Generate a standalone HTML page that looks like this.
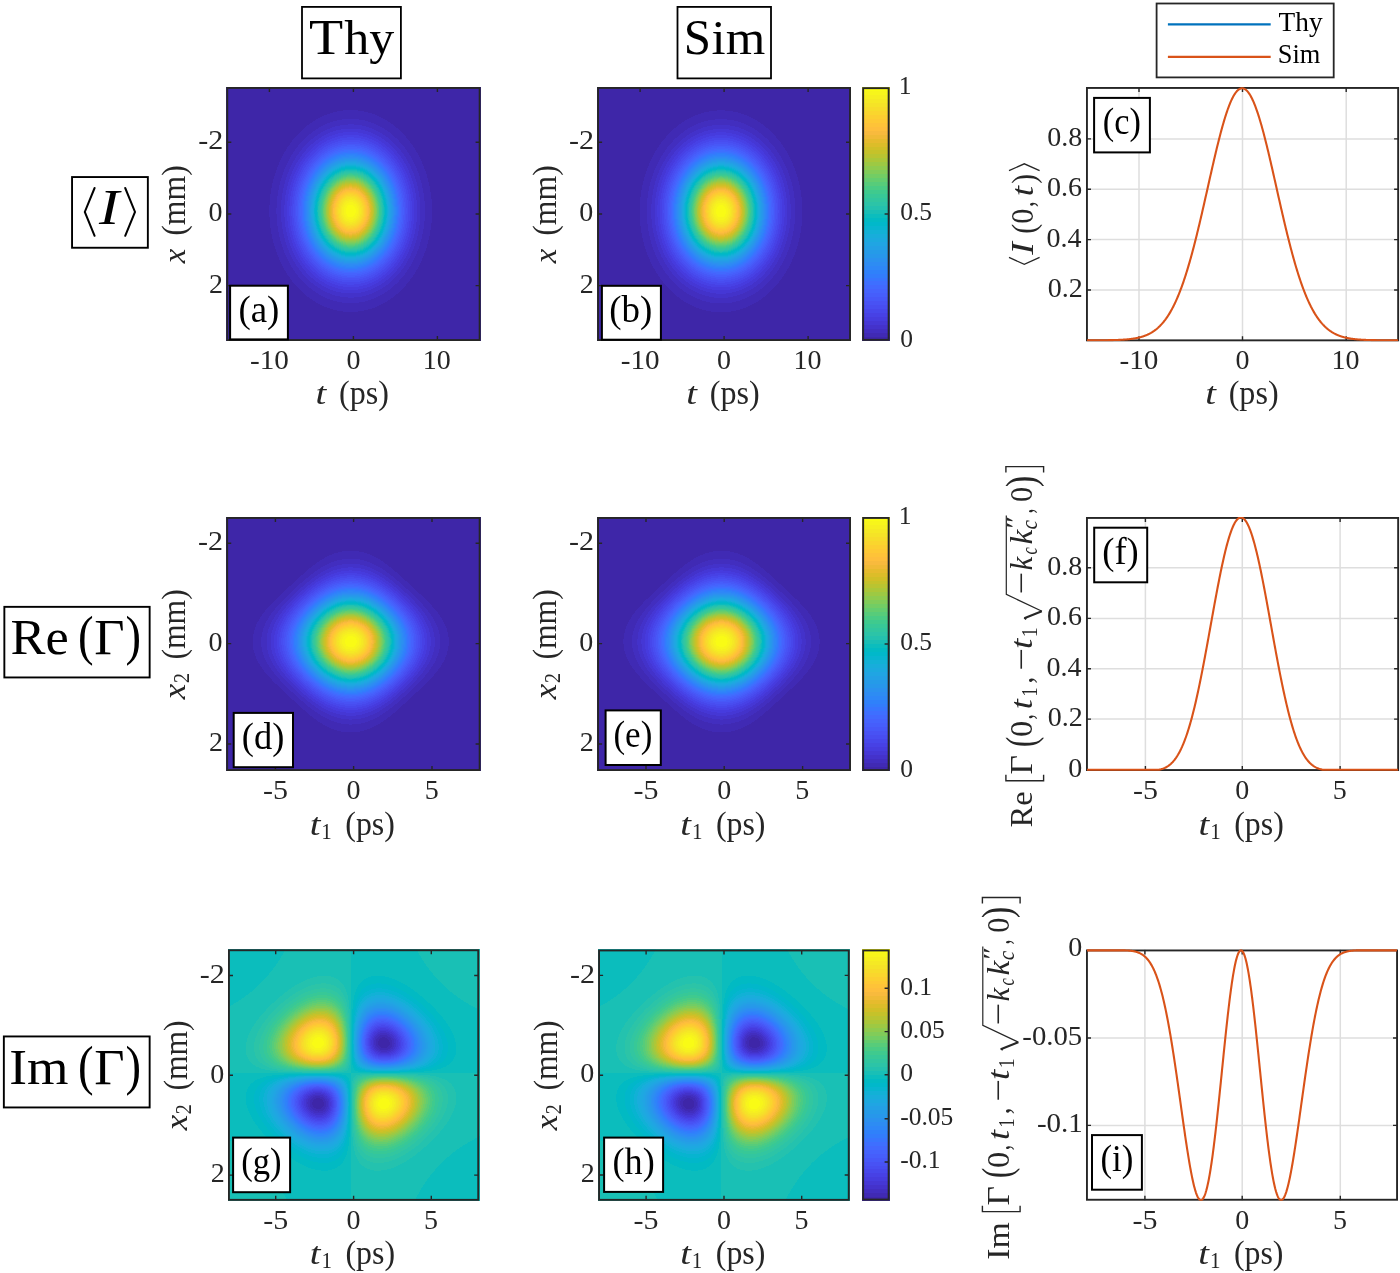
<!DOCTYPE html>
<html><head><meta charset="utf-8"><title>figure</title><style>
html,body{margin:0;padding:0;background:#fff}
body{width:1400px;height:1273px;position:relative;overflow:hidden}
canvas,.fb{position:absolute;display:block}
svg{position:absolute;left:0;top:0}
text{font-family:"Liberation Serif",serif;font-kerning:none}
</style></head><body>
<div class="fb" style="left:226px;top:87px;width:255px;height:254px;background:radial-gradient(101.5px 126.0px at 124.7px 124.0px,rgb(249,251,21) 0%,rgb(249,251,21) 4.93%,rgb(247,245,27) 4.93%,rgb(247,245,27) 7.00%,rgb(246,239,32) 7.00%,rgb(246,239,32) 8.61%,rgb(245,233,36) 8.61%,rgb(245,233,36) 9.98%,rgb(245,227,39) 9.98%,rgb(245,227,39) 11.20%,rgb(247,220,42) 11.20%,rgb(247,220,42) 12.33%,rgb(250,214,45) 12.33%,rgb(250,214,45) 13.37%,rgb(252,207,48) 13.37%,rgb(252,207,48) 14.36%,rgb(254,201,52) 14.36%,rgb(254,201,52) 15.29%,rgb(254,195,56) 15.29%,rgb(254,195,56) 16.19%,rgb(254,190,60) 16.19%,rgb(254,190,60) 17.06%,rgb(248,186,61) 17.06%,rgb(248,186,61) 17.90%,rgb(240,186,54) 17.90%,rgb(240,186,54) 18.72%,rgb(230,187,45) 18.72%,rgb(230,187,45) 19.52%,rgb(220,189,41) 19.52%,rgb(220,189,41) 20.30%,rgb(209,191,39) 20.30%,rgb(209,191,39) 21.07%,rgb(197,194,42) 21.07%,rgb(197,194,42) 21.83%,rgb(185,196,49) 21.83%,rgb(185,196,49) 22.58%,rgb(171,199,57) 22.58%,rgb(171,199,57) 23.31%,rgb(157,201,67) 23.31%,rgb(157,201,67) 24.05%,rgb(143,203,78) 24.05%,rgb(143,203,78) 24.77%,rgb(129,204,89) 24.77%,rgb(129,204,89) 25.50%,rgb(114,205,100) 25.50%,rgb(114,205,100) 26.21%,rgb(100,205,111) 26.21%,rgb(100,205,111) 26.93%,rgb(87,204,122) 26.93%,rgb(87,204,122) 27.65%,rgb(74,203,132) 27.65%,rgb(74,203,132) 28.36%,rgb(63,202,142) 28.36%,rgb(63,202,142) 29.08%,rgb(55,200,151) 29.08%,rgb(55,200,151) 29.80%,rgb(49,198,159) 29.80%,rgb(49,198,159) 30.52%,rgb(44,196,167) 30.52%,rgb(44,196,167) 31.24%,rgb(36,193,174) 31.24%,rgb(36,193,174) 31.97%,rgb(25,191,182) 31.97%,rgb(25,191,182) 32.71%,rgb(11,189,189) 32.71%,rgb(11,189,189) 33.45%,rgb(2,186,195) 33.45%,rgb(2,186,195) 34.19%,rgb(1,184,202) 34.19%,rgb(1,184,202) 34.95%,rgb(8,181,208) 34.95%,rgb(8,181,208) 35.72%,rgb(18,177,214) 35.72%,rgb(18,177,214) 36.49%,rgb(24,173,219) 36.49%,rgb(24,173,219) 37.28%,rgb(28,169,223) 37.28%,rgb(28,169,223) 38.09%,rgb(32,165,227) 38.09%,rgb(32,165,227) 38.91%,rgb(35,160,229) 38.91%,rgb(35,160,229) 39.74%,rgb(37,155,232) 39.74%,rgb(37,155,232) 40.59%,rgb(39,151,235) 40.59%,rgb(39,151,235) 41.47%,rgb(43,145,239) 41.47%,rgb(43,145,239) 42.37%,rgb(45,140,243) 42.37%,rgb(45,140,243) 43.29%,rgb(46,135,247) 43.29%,rgb(46,135,247) 44.24%,rgb(47,129,250) 44.24%,rgb(47,129,250) 45.23%,rgb(50,124,252) 45.23%,rgb(50,124,252) 46.25%,rgb(56,117,254) 46.25%,rgb(56,117,254) 47.32%,rgb(62,111,255) 47.32%,rgb(62,111,255) 48.43%,rgb(66,105,254) 48.43%,rgb(66,105,254) 49.60%,rgb(69,99,253) 49.60%,rgb(69,99,253) 50.83%,rgb(70,94,251) 50.83%,rgb(70,94,251) 52.13%,rgb(71,88,248) 52.13%,rgb(71,88,248) 53.52%,rgb(72,82,244) 53.52%,rgb(72,82,244) 55.02%,rgb(72,77,240) 55.02%,rgb(72,77,240) 56.65%,rgb(71,71,235) 56.65%,rgb(71,71,235) 58.44%,rgb(71,65,229) 58.44%,rgb(71,65,229) 60.44%,rgb(70,60,222) 60.44%,rgb(70,60,222) 62.72%,rgb(69,55,213) 62.72%,rgb(69,55,213) 65.41%,rgb(68,50,203) 65.41%,rgb(68,50,203) 68.72%,rgb(66,46,192) 68.72%,rgb(66,46,192) 73.13%,rgb(64,42,180) 73.13%,rgb(64,42,180) 80.11%,rgb(62,38,168) 80.11%)"></div>
<div class="fb" style="left:597px;top:87px;width:254px;height:254px;background:radial-gradient(101.5px 126.0px at 124.0px 124.3px,rgb(249,251,21) 0%,rgb(249,251,21) 4.93%,rgb(247,245,27) 4.93%,rgb(247,245,27) 7.00%,rgb(246,239,32) 7.00%,rgb(246,239,32) 8.61%,rgb(245,233,36) 8.61%,rgb(245,233,36) 9.98%,rgb(245,227,39) 9.98%,rgb(245,227,39) 11.20%,rgb(247,220,42) 11.20%,rgb(247,220,42) 12.33%,rgb(250,214,45) 12.33%,rgb(250,214,45) 13.37%,rgb(252,207,48) 13.37%,rgb(252,207,48) 14.36%,rgb(254,201,52) 14.36%,rgb(254,201,52) 15.29%,rgb(254,195,56) 15.29%,rgb(254,195,56) 16.19%,rgb(254,190,60) 16.19%,rgb(254,190,60) 17.06%,rgb(248,186,61) 17.06%,rgb(248,186,61) 17.90%,rgb(240,186,54) 17.90%,rgb(240,186,54) 18.72%,rgb(230,187,45) 18.72%,rgb(230,187,45) 19.52%,rgb(220,189,41) 19.52%,rgb(220,189,41) 20.30%,rgb(209,191,39) 20.30%,rgb(209,191,39) 21.07%,rgb(197,194,42) 21.07%,rgb(197,194,42) 21.83%,rgb(185,196,49) 21.83%,rgb(185,196,49) 22.58%,rgb(171,199,57) 22.58%,rgb(171,199,57) 23.31%,rgb(157,201,67) 23.31%,rgb(157,201,67) 24.05%,rgb(143,203,78) 24.05%,rgb(143,203,78) 24.77%,rgb(129,204,89) 24.77%,rgb(129,204,89) 25.50%,rgb(114,205,100) 25.50%,rgb(114,205,100) 26.21%,rgb(100,205,111) 26.21%,rgb(100,205,111) 26.93%,rgb(87,204,122) 26.93%,rgb(87,204,122) 27.65%,rgb(74,203,132) 27.65%,rgb(74,203,132) 28.36%,rgb(63,202,142) 28.36%,rgb(63,202,142) 29.08%,rgb(55,200,151) 29.08%,rgb(55,200,151) 29.80%,rgb(49,198,159) 29.80%,rgb(49,198,159) 30.52%,rgb(44,196,167) 30.52%,rgb(44,196,167) 31.24%,rgb(36,193,174) 31.24%,rgb(36,193,174) 31.97%,rgb(25,191,182) 31.97%,rgb(25,191,182) 32.71%,rgb(11,189,189) 32.71%,rgb(11,189,189) 33.45%,rgb(2,186,195) 33.45%,rgb(2,186,195) 34.19%,rgb(1,184,202) 34.19%,rgb(1,184,202) 34.95%,rgb(8,181,208) 34.95%,rgb(8,181,208) 35.72%,rgb(18,177,214) 35.72%,rgb(18,177,214) 36.49%,rgb(24,173,219) 36.49%,rgb(24,173,219) 37.28%,rgb(28,169,223) 37.28%,rgb(28,169,223) 38.09%,rgb(32,165,227) 38.09%,rgb(32,165,227) 38.91%,rgb(35,160,229) 38.91%,rgb(35,160,229) 39.74%,rgb(37,155,232) 39.74%,rgb(37,155,232) 40.59%,rgb(39,151,235) 40.59%,rgb(39,151,235) 41.47%,rgb(43,145,239) 41.47%,rgb(43,145,239) 42.37%,rgb(45,140,243) 42.37%,rgb(45,140,243) 43.29%,rgb(46,135,247) 43.29%,rgb(46,135,247) 44.24%,rgb(47,129,250) 44.24%,rgb(47,129,250) 45.23%,rgb(50,124,252) 45.23%,rgb(50,124,252) 46.25%,rgb(56,117,254) 46.25%,rgb(56,117,254) 47.32%,rgb(62,111,255) 47.32%,rgb(62,111,255) 48.43%,rgb(66,105,254) 48.43%,rgb(66,105,254) 49.60%,rgb(69,99,253) 49.60%,rgb(69,99,253) 50.83%,rgb(70,94,251) 50.83%,rgb(70,94,251) 52.13%,rgb(71,88,248) 52.13%,rgb(71,88,248) 53.52%,rgb(72,82,244) 53.52%,rgb(72,82,244) 55.02%,rgb(72,77,240) 55.02%,rgb(72,77,240) 56.65%,rgb(71,71,235) 56.65%,rgb(71,71,235) 58.44%,rgb(71,65,229) 58.44%,rgb(71,65,229) 60.44%,rgb(70,60,222) 60.44%,rgb(70,60,222) 62.72%,rgb(69,55,213) 62.72%,rgb(69,55,213) 65.41%,rgb(68,50,203) 65.41%,rgb(68,50,203) 68.72%,rgb(66,46,192) 68.72%,rgb(66,46,192) 73.13%,rgb(64,42,180) 73.13%,rgb(64,42,180) 80.11%,rgb(62,38,168) 80.11%)"></div>
<div class="fb" style="left:226px;top:517px;width:255px;height:254px;background:radial-gradient(122.4px 113.4px at 124.7px 124.6px,rgb(249,251,21) 0%,rgb(249,251,21) 4.93%,rgb(247,245,27) 4.93%,rgb(247,245,27) 7.00%,rgb(246,239,32) 7.00%,rgb(246,239,32) 8.61%,rgb(245,233,36) 8.61%,rgb(245,233,36) 9.98%,rgb(245,227,39) 9.98%,rgb(245,227,39) 11.20%,rgb(247,220,42) 11.20%,rgb(247,220,42) 12.33%,rgb(250,214,45) 12.33%,rgb(250,214,45) 13.37%,rgb(252,207,48) 13.37%,rgb(252,207,48) 14.36%,rgb(254,201,52) 14.36%,rgb(254,201,52) 15.29%,rgb(254,195,56) 15.29%,rgb(254,195,56) 16.19%,rgb(254,190,60) 16.19%,rgb(254,190,60) 17.06%,rgb(248,186,61) 17.06%,rgb(248,186,61) 17.90%,rgb(240,186,54) 17.90%,rgb(240,186,54) 18.72%,rgb(230,187,45) 18.72%,rgb(230,187,45) 19.52%,rgb(220,189,41) 19.52%,rgb(220,189,41) 20.30%,rgb(209,191,39) 20.30%,rgb(209,191,39) 21.07%,rgb(197,194,42) 21.07%,rgb(197,194,42) 21.83%,rgb(185,196,49) 21.83%,rgb(185,196,49) 22.58%,rgb(171,199,57) 22.58%,rgb(171,199,57) 23.31%,rgb(157,201,67) 23.31%,rgb(157,201,67) 24.05%,rgb(143,203,78) 24.05%,rgb(143,203,78) 24.77%,rgb(129,204,89) 24.77%,rgb(129,204,89) 25.50%,rgb(114,205,100) 25.50%,rgb(114,205,100) 26.21%,rgb(100,205,111) 26.21%,rgb(100,205,111) 26.93%,rgb(87,204,122) 26.93%,rgb(87,204,122) 27.65%,rgb(74,203,132) 27.65%,rgb(74,203,132) 28.36%,rgb(63,202,142) 28.36%,rgb(63,202,142) 29.08%,rgb(55,200,151) 29.08%,rgb(55,200,151) 29.80%,rgb(49,198,159) 29.80%,rgb(49,198,159) 30.52%,rgb(44,196,167) 30.52%,rgb(44,196,167) 31.24%,rgb(36,193,174) 31.24%,rgb(36,193,174) 31.97%,rgb(25,191,182) 31.97%,rgb(25,191,182) 32.71%,rgb(11,189,189) 32.71%,rgb(11,189,189) 33.45%,rgb(2,186,195) 33.45%,rgb(2,186,195) 34.19%,rgb(1,184,202) 34.19%,rgb(1,184,202) 34.95%,rgb(8,181,208) 34.95%,rgb(8,181,208) 35.72%,rgb(18,177,214) 35.72%,rgb(18,177,214) 36.49%,rgb(24,173,219) 36.49%,rgb(24,173,219) 37.28%,rgb(28,169,223) 37.28%,rgb(28,169,223) 38.09%,rgb(32,165,227) 38.09%,rgb(32,165,227) 38.91%,rgb(35,160,229) 38.91%,rgb(35,160,229) 39.74%,rgb(37,155,232) 39.74%,rgb(37,155,232) 40.59%,rgb(39,151,235) 40.59%,rgb(39,151,235) 41.47%,rgb(43,145,239) 41.47%,rgb(43,145,239) 42.37%,rgb(45,140,243) 42.37%,rgb(45,140,243) 43.29%,rgb(46,135,247) 43.29%,rgb(46,135,247) 44.24%,rgb(47,129,250) 44.24%,rgb(47,129,250) 45.23%,rgb(50,124,252) 45.23%,rgb(50,124,252) 46.25%,rgb(56,117,254) 46.25%,rgb(56,117,254) 47.32%,rgb(62,111,255) 47.32%,rgb(62,111,255) 48.43%,rgb(66,105,254) 48.43%,rgb(66,105,254) 49.60%,rgb(69,99,253) 49.60%,rgb(69,99,253) 50.83%,rgb(70,94,251) 50.83%,rgb(70,94,251) 52.13%,rgb(71,88,248) 52.13%,rgb(71,88,248) 53.52%,rgb(72,82,244) 53.52%,rgb(72,82,244) 55.02%,rgb(72,77,240) 55.02%,rgb(72,77,240) 56.65%,rgb(71,71,235) 56.65%,rgb(71,71,235) 58.44%,rgb(71,65,229) 58.44%,rgb(71,65,229) 60.44%,rgb(70,60,222) 60.44%,rgb(70,60,222) 62.72%,rgb(69,55,213) 62.72%,rgb(69,55,213) 65.41%,rgb(68,50,203) 65.41%,rgb(68,50,203) 68.72%,rgb(66,46,192) 68.72%,rgb(66,46,192) 73.13%,rgb(64,42,180) 73.13%,rgb(64,42,180) 80.11%,rgb(62,38,168) 80.11%)"></div>
<div class="fb" style="left:597px;top:517px;width:254px;height:254px;background:radial-gradient(122.4px 113.4px at 124.5px 124.6px,rgb(249,251,21) 0%,rgb(249,251,21) 4.93%,rgb(247,245,27) 4.93%,rgb(247,245,27) 7.00%,rgb(246,239,32) 7.00%,rgb(246,239,32) 8.61%,rgb(245,233,36) 8.61%,rgb(245,233,36) 9.98%,rgb(245,227,39) 9.98%,rgb(245,227,39) 11.20%,rgb(247,220,42) 11.20%,rgb(247,220,42) 12.33%,rgb(250,214,45) 12.33%,rgb(250,214,45) 13.37%,rgb(252,207,48) 13.37%,rgb(252,207,48) 14.36%,rgb(254,201,52) 14.36%,rgb(254,201,52) 15.29%,rgb(254,195,56) 15.29%,rgb(254,195,56) 16.19%,rgb(254,190,60) 16.19%,rgb(254,190,60) 17.06%,rgb(248,186,61) 17.06%,rgb(248,186,61) 17.90%,rgb(240,186,54) 17.90%,rgb(240,186,54) 18.72%,rgb(230,187,45) 18.72%,rgb(230,187,45) 19.52%,rgb(220,189,41) 19.52%,rgb(220,189,41) 20.30%,rgb(209,191,39) 20.30%,rgb(209,191,39) 21.07%,rgb(197,194,42) 21.07%,rgb(197,194,42) 21.83%,rgb(185,196,49) 21.83%,rgb(185,196,49) 22.58%,rgb(171,199,57) 22.58%,rgb(171,199,57) 23.31%,rgb(157,201,67) 23.31%,rgb(157,201,67) 24.05%,rgb(143,203,78) 24.05%,rgb(143,203,78) 24.77%,rgb(129,204,89) 24.77%,rgb(129,204,89) 25.50%,rgb(114,205,100) 25.50%,rgb(114,205,100) 26.21%,rgb(100,205,111) 26.21%,rgb(100,205,111) 26.93%,rgb(87,204,122) 26.93%,rgb(87,204,122) 27.65%,rgb(74,203,132) 27.65%,rgb(74,203,132) 28.36%,rgb(63,202,142) 28.36%,rgb(63,202,142) 29.08%,rgb(55,200,151) 29.08%,rgb(55,200,151) 29.80%,rgb(49,198,159) 29.80%,rgb(49,198,159) 30.52%,rgb(44,196,167) 30.52%,rgb(44,196,167) 31.24%,rgb(36,193,174) 31.24%,rgb(36,193,174) 31.97%,rgb(25,191,182) 31.97%,rgb(25,191,182) 32.71%,rgb(11,189,189) 32.71%,rgb(11,189,189) 33.45%,rgb(2,186,195) 33.45%,rgb(2,186,195) 34.19%,rgb(1,184,202) 34.19%,rgb(1,184,202) 34.95%,rgb(8,181,208) 34.95%,rgb(8,181,208) 35.72%,rgb(18,177,214) 35.72%,rgb(18,177,214) 36.49%,rgb(24,173,219) 36.49%,rgb(24,173,219) 37.28%,rgb(28,169,223) 37.28%,rgb(28,169,223) 38.09%,rgb(32,165,227) 38.09%,rgb(32,165,227) 38.91%,rgb(35,160,229) 38.91%,rgb(35,160,229) 39.74%,rgb(37,155,232) 39.74%,rgb(37,155,232) 40.59%,rgb(39,151,235) 40.59%,rgb(39,151,235) 41.47%,rgb(43,145,239) 41.47%,rgb(43,145,239) 42.37%,rgb(45,140,243) 42.37%,rgb(45,140,243) 43.29%,rgb(46,135,247) 43.29%,rgb(46,135,247) 44.24%,rgb(47,129,250) 44.24%,rgb(47,129,250) 45.23%,rgb(50,124,252) 45.23%,rgb(50,124,252) 46.25%,rgb(56,117,254) 46.25%,rgb(56,117,254) 47.32%,rgb(62,111,255) 47.32%,rgb(62,111,255) 48.43%,rgb(66,105,254) 48.43%,rgb(66,105,254) 49.60%,rgb(69,99,253) 49.60%,rgb(69,99,253) 50.83%,rgb(70,94,251) 50.83%,rgb(70,94,251) 52.13%,rgb(71,88,248) 52.13%,rgb(71,88,248) 53.52%,rgb(72,82,244) 53.52%,rgb(72,82,244) 55.02%,rgb(72,77,240) 55.02%,rgb(72,77,240) 56.65%,rgb(71,71,235) 56.65%,rgb(71,71,235) 58.44%,rgb(71,65,229) 58.44%,rgb(71,65,229) 60.44%,rgb(70,60,222) 60.44%,rgb(70,60,222) 62.72%,rgb(69,55,213) 62.72%,rgb(69,55,213) 65.41%,rgb(68,50,203) 65.41%,rgb(68,50,203) 68.72%,rgb(66,46,192) 68.72%,rgb(66,46,192) 73.13%,rgb(64,42,180) 73.13%,rgb(64,42,180) 80.11%,rgb(62,38,168) 80.11%)"></div>
<div class="fb" style="left:228px;top:949px;width:252px;height:252px;background:radial-gradient(44.4px 41.1px at 91.1px 94.7px,rgb(249,251,21) 0.0%,rgb(249,251,21) 4.5%,rgb(249,251,21) 9.1%,rgb(247,245,27) 13.6%,rgb(246,239,32) 18.2%,rgb(245,233,36) 22.7%,rgb(247,220,42) 27.3%,rgb(250,214,45) 31.8%,rgb(254,201,52) 36.4%,rgb(254,190,60) 40.9%,rgb(240,186,54) 45.5%,rgb(220,189,41) 50.0%,rgb(197,194,42) 54.5%,rgb(171,199,57) 59.1%,rgb(157,201,67) 63.6%,rgb(129,204,89) 68.2%,rgb(100,205,111) 72.7%,rgb(87,204,122) 77.3%,rgb(74,203,132) 81.8%,rgb(63,202,142) 86.4%,rgb(55,200,151) 90.9%,transparent 95.5%,transparent 100.0%,transparent 100%),radial-gradient(44.4px 41.1px at 154.9px 153.7px,rgb(249,251,21) 0.0%,rgb(249,251,21) 4.5%,rgb(249,251,21) 9.1%,rgb(247,245,27) 13.6%,rgb(246,239,32) 18.2%,rgb(245,233,36) 22.7%,rgb(247,220,42) 27.3%,rgb(250,214,45) 31.8%,rgb(254,201,52) 36.4%,rgb(254,190,60) 40.9%,rgb(240,186,54) 45.5%,rgb(220,189,41) 50.0%,rgb(197,194,42) 54.5%,rgb(171,199,57) 59.1%,rgb(157,201,67) 63.6%,rgb(129,204,89) 68.2%,rgb(100,205,111) 72.7%,rgb(87,204,122) 77.3%,rgb(74,203,132) 81.8%,rgb(63,202,142) 86.4%,rgb(55,200,151) 90.9%,transparent 95.5%,transparent 100.0%,transparent 100%),radial-gradient(44.4px 41.1px at 154.9px 94.7px,rgb(62,38,168) 0.0%,rgb(62,38,168) 4.5%,rgb(62,38,168) 9.1%,rgb(64,42,180) 13.6%,rgb(66,46,192) 18.2%,rgb(68,50,203) 22.7%,rgb(70,60,222) 27.3%,rgb(71,65,229) 31.8%,rgb(72,77,240) 36.4%,rgb(71,88,248) 40.9%,rgb(69,99,253) 45.5%,rgb(62,111,255) 50.0%,rgb(50,124,252) 54.5%,rgb(46,135,247) 59.1%,rgb(45,140,243) 63.6%,rgb(39,151,235) 68.2%,rgb(35,160,229) 72.7%,rgb(32,165,227) 77.3%,rgb(28,169,223) 81.8%,rgb(24,173,219) 86.4%,rgb(18,177,214) 90.9%,rgb(8,181,208) 95.5%,transparent 100.0%,transparent 100%),radial-gradient(44.4px 41.1px at 91.1px 153.7px,rgb(62,38,168) 0.0%,rgb(62,38,168) 4.5%,rgb(62,38,168) 9.1%,rgb(64,42,180) 13.6%,rgb(66,46,192) 18.2%,rgb(68,50,203) 22.7%,rgb(70,60,222) 27.3%,rgb(71,65,229) 31.8%,rgb(72,77,240) 36.4%,rgb(71,88,248) 40.9%,rgb(69,99,253) 45.5%,rgb(62,111,255) 50.0%,rgb(50,124,252) 54.5%,rgb(46,135,247) 59.1%,rgb(45,140,243) 63.6%,rgb(39,151,235) 68.2%,rgb(35,160,229) 72.7%,rgb(32,165,227) 77.3%,rgb(28,169,223) 81.8%,rgb(24,173,219) 86.4%,rgb(18,177,214) 90.9%,rgb(8,181,208) 95.5%,transparent 100.0%,transparent 100%),rgb(25,191,182)"></div>
<div class="fb" style="left:598px;top:949px;width:252px;height:252px;background:radial-gradient(44.4px 41.1px at 91.6px 94.7px,rgb(249,251,21) 0.0%,rgb(249,251,21) 4.5%,rgb(249,251,21) 9.1%,rgb(247,245,27) 13.6%,rgb(246,239,32) 18.2%,rgb(245,233,36) 22.7%,rgb(247,220,42) 27.3%,rgb(250,214,45) 31.8%,rgb(254,201,52) 36.4%,rgb(254,190,60) 40.9%,rgb(240,186,54) 45.5%,rgb(220,189,41) 50.0%,rgb(197,194,42) 54.5%,rgb(171,199,57) 59.1%,rgb(157,201,67) 63.6%,rgb(129,204,89) 68.2%,rgb(100,205,111) 72.7%,rgb(87,204,122) 77.3%,rgb(74,203,132) 81.8%,rgb(63,202,142) 86.4%,rgb(55,200,151) 90.9%,transparent 95.5%,transparent 100.0%,transparent 100%),radial-gradient(44.4px 41.1px at 155.4px 153.7px,rgb(249,251,21) 0.0%,rgb(249,251,21) 4.5%,rgb(249,251,21) 9.1%,rgb(247,245,27) 13.6%,rgb(246,239,32) 18.2%,rgb(245,233,36) 22.7%,rgb(247,220,42) 27.3%,rgb(250,214,45) 31.8%,rgb(254,201,52) 36.4%,rgb(254,190,60) 40.9%,rgb(240,186,54) 45.5%,rgb(220,189,41) 50.0%,rgb(197,194,42) 54.5%,rgb(171,199,57) 59.1%,rgb(157,201,67) 63.6%,rgb(129,204,89) 68.2%,rgb(100,205,111) 72.7%,rgb(87,204,122) 77.3%,rgb(74,203,132) 81.8%,rgb(63,202,142) 86.4%,rgb(55,200,151) 90.9%,transparent 95.5%,transparent 100.0%,transparent 100%),radial-gradient(44.4px 41.1px at 155.4px 94.7px,rgb(62,38,168) 0.0%,rgb(62,38,168) 4.5%,rgb(62,38,168) 9.1%,rgb(64,42,180) 13.6%,rgb(66,46,192) 18.2%,rgb(68,50,203) 22.7%,rgb(70,60,222) 27.3%,rgb(71,65,229) 31.8%,rgb(72,77,240) 36.4%,rgb(71,88,248) 40.9%,rgb(69,99,253) 45.5%,rgb(62,111,255) 50.0%,rgb(50,124,252) 54.5%,rgb(46,135,247) 59.1%,rgb(45,140,243) 63.6%,rgb(39,151,235) 68.2%,rgb(35,160,229) 72.7%,rgb(32,165,227) 77.3%,rgb(28,169,223) 81.8%,rgb(24,173,219) 86.4%,rgb(18,177,214) 90.9%,rgb(8,181,208) 95.5%,transparent 100.0%,transparent 100%),radial-gradient(44.4px 41.1px at 91.6px 153.7px,rgb(62,38,168) 0.0%,rgb(62,38,168) 4.5%,rgb(62,38,168) 9.1%,rgb(64,42,180) 13.6%,rgb(66,46,192) 18.2%,rgb(68,50,203) 22.7%,rgb(70,60,222) 27.3%,rgb(71,65,229) 31.8%,rgb(72,77,240) 36.4%,rgb(71,88,248) 40.9%,rgb(69,99,253) 45.5%,rgb(62,111,255) 50.0%,rgb(50,124,252) 54.5%,rgb(46,135,247) 59.1%,rgb(45,140,243) 63.6%,rgb(39,151,235) 68.2%,rgb(35,160,229) 72.7%,rgb(32,165,227) 77.3%,rgb(28,169,223) 81.8%,rgb(24,173,219) 86.4%,rgb(18,177,214) 90.9%,rgb(8,181,208) 95.5%,transparent 100.0%,transparent 100%),rgb(25,191,182)"></div>
<canvas id="cva" width="255" height="254" style="left:226px;top:87px"></canvas>
<canvas id="cvb" width="254" height="254" style="left:597px;top:87px"></canvas>
<canvas id="cvd" width="255" height="254" style="left:226px;top:517px"></canvas>
<canvas id="cve" width="254" height="254" style="left:597px;top:517px"></canvas>
<canvas id="cvg" width="252" height="252" style="left:228px;top:949px"></canvas>
<canvas id="cvh" width="252" height="252" style="left:598px;top:949px"></canvas>
<div class="fb" style="left:862px;top:87px;width:28px;height:254px;background:linear-gradient(to top,rgb(62,38,168) 0.000%,rgb(62,38,168) 1.562%,rgb(64,42,180) 1.562%,rgb(64,42,180) 3.125%,rgb(66,46,192) 3.125%,rgb(66,46,192) 4.688%,rgb(68,50,203) 4.688%,rgb(68,50,203) 6.250%,rgb(69,55,213) 6.250%,rgb(69,55,213) 7.812%,rgb(70,60,222) 7.812%,rgb(70,60,222) 9.375%,rgb(71,65,229) 9.375%,rgb(71,65,229) 10.938%,rgb(71,71,235) 10.938%,rgb(71,71,235) 12.500%,rgb(72,77,240) 12.500%,rgb(72,77,240) 14.062%,rgb(72,82,244) 14.062%,rgb(72,82,244) 15.625%,rgb(71,88,248) 15.625%,rgb(71,88,248) 17.188%,rgb(70,94,251) 17.188%,rgb(70,94,251) 18.750%,rgb(69,99,253) 18.750%,rgb(69,99,253) 20.312%,rgb(66,105,254) 20.312%,rgb(66,105,254) 21.875%,rgb(62,111,255) 21.875%,rgb(62,111,255) 23.438%,rgb(56,117,254) 23.438%,rgb(56,117,254) 25.000%,rgb(50,124,252) 25.000%,rgb(50,124,252) 26.562%,rgb(47,129,250) 26.562%,rgb(47,129,250) 28.125%,rgb(46,135,247) 28.125%,rgb(46,135,247) 29.688%,rgb(45,140,243) 29.688%,rgb(45,140,243) 31.250%,rgb(43,145,239) 31.250%,rgb(43,145,239) 32.812%,rgb(39,151,235) 32.812%,rgb(39,151,235) 34.375%,rgb(37,155,232) 34.375%,rgb(37,155,232) 35.938%,rgb(35,160,229) 35.938%,rgb(35,160,229) 37.500%,rgb(32,165,227) 37.500%,rgb(32,165,227) 39.062%,rgb(28,169,223) 39.062%,rgb(28,169,223) 40.625%,rgb(24,173,219) 40.625%,rgb(24,173,219) 42.188%,rgb(18,177,214) 42.188%,rgb(18,177,214) 43.750%,rgb(8,181,208) 43.750%,rgb(8,181,208) 45.312%,rgb(1,184,202) 45.312%,rgb(1,184,202) 46.875%,rgb(2,186,195) 46.875%,rgb(2,186,195) 48.438%,rgb(11,189,189) 48.438%,rgb(11,189,189) 50.000%,rgb(25,191,182) 50.000%,rgb(25,191,182) 51.562%,rgb(36,193,174) 51.562%,rgb(36,193,174) 53.125%,rgb(44,196,167) 53.125%,rgb(44,196,167) 54.688%,rgb(49,198,159) 54.688%,rgb(49,198,159) 56.250%,rgb(55,200,151) 56.250%,rgb(55,200,151) 57.812%,rgb(63,202,142) 57.812%,rgb(63,202,142) 59.375%,rgb(74,203,132) 59.375%,rgb(74,203,132) 60.938%,rgb(87,204,122) 60.938%,rgb(87,204,122) 62.500%,rgb(100,205,111) 62.500%,rgb(100,205,111) 64.062%,rgb(114,205,100) 64.062%,rgb(114,205,100) 65.625%,rgb(129,204,89) 65.625%,rgb(129,204,89) 67.188%,rgb(143,203,78) 67.188%,rgb(143,203,78) 68.750%,rgb(157,201,67) 68.750%,rgb(157,201,67) 70.312%,rgb(171,199,57) 70.312%,rgb(171,199,57) 71.875%,rgb(185,196,49) 71.875%,rgb(185,196,49) 73.438%,rgb(197,194,42) 73.438%,rgb(197,194,42) 75.000%,rgb(209,191,39) 75.000%,rgb(209,191,39) 76.562%,rgb(220,189,41) 76.562%,rgb(220,189,41) 78.125%,rgb(230,187,45) 78.125%,rgb(230,187,45) 79.688%,rgb(240,186,54) 79.688%,rgb(240,186,54) 81.250%,rgb(248,186,61) 81.250%,rgb(248,186,61) 82.812%,rgb(254,190,60) 82.812%,rgb(254,190,60) 84.375%,rgb(254,195,56) 84.375%,rgb(254,195,56) 85.938%,rgb(254,201,52) 85.938%,rgb(254,201,52) 87.500%,rgb(252,207,48) 87.500%,rgb(252,207,48) 89.062%,rgb(250,214,45) 89.062%,rgb(250,214,45) 90.625%,rgb(247,220,42) 90.625%,rgb(247,220,42) 92.188%,rgb(245,227,39) 92.188%,rgb(245,227,39) 93.750%,rgb(245,233,36) 93.750%,rgb(245,233,36) 95.312%,rgb(246,239,32) 95.312%,rgb(246,239,32) 96.875%,rgb(247,245,27) 96.875%,rgb(247,245,27) 98.438%,rgb(249,251,21) 98.438%,rgb(249,251,21) 100.000%)"></div>
<div class="fb" style="left:862px;top:517px;width:28px;height:254px;background:linear-gradient(to top,rgb(62,38,168) 0.000%,rgb(62,38,168) 1.562%,rgb(64,42,180) 1.562%,rgb(64,42,180) 3.125%,rgb(66,46,192) 3.125%,rgb(66,46,192) 4.688%,rgb(68,50,203) 4.688%,rgb(68,50,203) 6.250%,rgb(69,55,213) 6.250%,rgb(69,55,213) 7.812%,rgb(70,60,222) 7.812%,rgb(70,60,222) 9.375%,rgb(71,65,229) 9.375%,rgb(71,65,229) 10.938%,rgb(71,71,235) 10.938%,rgb(71,71,235) 12.500%,rgb(72,77,240) 12.500%,rgb(72,77,240) 14.062%,rgb(72,82,244) 14.062%,rgb(72,82,244) 15.625%,rgb(71,88,248) 15.625%,rgb(71,88,248) 17.188%,rgb(70,94,251) 17.188%,rgb(70,94,251) 18.750%,rgb(69,99,253) 18.750%,rgb(69,99,253) 20.312%,rgb(66,105,254) 20.312%,rgb(66,105,254) 21.875%,rgb(62,111,255) 21.875%,rgb(62,111,255) 23.438%,rgb(56,117,254) 23.438%,rgb(56,117,254) 25.000%,rgb(50,124,252) 25.000%,rgb(50,124,252) 26.562%,rgb(47,129,250) 26.562%,rgb(47,129,250) 28.125%,rgb(46,135,247) 28.125%,rgb(46,135,247) 29.688%,rgb(45,140,243) 29.688%,rgb(45,140,243) 31.250%,rgb(43,145,239) 31.250%,rgb(43,145,239) 32.812%,rgb(39,151,235) 32.812%,rgb(39,151,235) 34.375%,rgb(37,155,232) 34.375%,rgb(37,155,232) 35.938%,rgb(35,160,229) 35.938%,rgb(35,160,229) 37.500%,rgb(32,165,227) 37.500%,rgb(32,165,227) 39.062%,rgb(28,169,223) 39.062%,rgb(28,169,223) 40.625%,rgb(24,173,219) 40.625%,rgb(24,173,219) 42.188%,rgb(18,177,214) 42.188%,rgb(18,177,214) 43.750%,rgb(8,181,208) 43.750%,rgb(8,181,208) 45.312%,rgb(1,184,202) 45.312%,rgb(1,184,202) 46.875%,rgb(2,186,195) 46.875%,rgb(2,186,195) 48.438%,rgb(11,189,189) 48.438%,rgb(11,189,189) 50.000%,rgb(25,191,182) 50.000%,rgb(25,191,182) 51.562%,rgb(36,193,174) 51.562%,rgb(36,193,174) 53.125%,rgb(44,196,167) 53.125%,rgb(44,196,167) 54.688%,rgb(49,198,159) 54.688%,rgb(49,198,159) 56.250%,rgb(55,200,151) 56.250%,rgb(55,200,151) 57.812%,rgb(63,202,142) 57.812%,rgb(63,202,142) 59.375%,rgb(74,203,132) 59.375%,rgb(74,203,132) 60.938%,rgb(87,204,122) 60.938%,rgb(87,204,122) 62.500%,rgb(100,205,111) 62.500%,rgb(100,205,111) 64.062%,rgb(114,205,100) 64.062%,rgb(114,205,100) 65.625%,rgb(129,204,89) 65.625%,rgb(129,204,89) 67.188%,rgb(143,203,78) 67.188%,rgb(143,203,78) 68.750%,rgb(157,201,67) 68.750%,rgb(157,201,67) 70.312%,rgb(171,199,57) 70.312%,rgb(171,199,57) 71.875%,rgb(185,196,49) 71.875%,rgb(185,196,49) 73.438%,rgb(197,194,42) 73.438%,rgb(197,194,42) 75.000%,rgb(209,191,39) 75.000%,rgb(209,191,39) 76.562%,rgb(220,189,41) 76.562%,rgb(220,189,41) 78.125%,rgb(230,187,45) 78.125%,rgb(230,187,45) 79.688%,rgb(240,186,54) 79.688%,rgb(240,186,54) 81.250%,rgb(248,186,61) 81.250%,rgb(248,186,61) 82.812%,rgb(254,190,60) 82.812%,rgb(254,190,60) 84.375%,rgb(254,195,56) 84.375%,rgb(254,195,56) 85.938%,rgb(254,201,52) 85.938%,rgb(254,201,52) 87.500%,rgb(252,207,48) 87.500%,rgb(252,207,48) 89.062%,rgb(250,214,45) 89.062%,rgb(250,214,45) 90.625%,rgb(247,220,42) 90.625%,rgb(247,220,42) 92.188%,rgb(245,227,39) 92.188%,rgb(245,227,39) 93.750%,rgb(245,233,36) 93.750%,rgb(245,233,36) 95.312%,rgb(246,239,32) 95.312%,rgb(246,239,32) 96.875%,rgb(247,245,27) 96.875%,rgb(247,245,27) 98.438%,rgb(249,251,21) 98.438%,rgb(249,251,21) 100.000%)"></div>
<div class="fb" style="left:862px;top:949px;width:28px;height:252px;background:linear-gradient(to top,rgb(62,38,168) 0.000%,rgb(62,38,168) 1.562%,rgb(64,42,180) 1.562%,rgb(64,42,180) 3.125%,rgb(66,46,192) 3.125%,rgb(66,46,192) 4.688%,rgb(68,50,203) 4.688%,rgb(68,50,203) 6.250%,rgb(69,55,213) 6.250%,rgb(69,55,213) 7.812%,rgb(70,60,222) 7.812%,rgb(70,60,222) 9.375%,rgb(71,65,229) 9.375%,rgb(71,65,229) 10.938%,rgb(71,71,235) 10.938%,rgb(71,71,235) 12.500%,rgb(72,77,240) 12.500%,rgb(72,77,240) 14.062%,rgb(72,82,244) 14.062%,rgb(72,82,244) 15.625%,rgb(71,88,248) 15.625%,rgb(71,88,248) 17.188%,rgb(70,94,251) 17.188%,rgb(70,94,251) 18.750%,rgb(69,99,253) 18.750%,rgb(69,99,253) 20.312%,rgb(66,105,254) 20.312%,rgb(66,105,254) 21.875%,rgb(62,111,255) 21.875%,rgb(62,111,255) 23.438%,rgb(56,117,254) 23.438%,rgb(56,117,254) 25.000%,rgb(50,124,252) 25.000%,rgb(50,124,252) 26.562%,rgb(47,129,250) 26.562%,rgb(47,129,250) 28.125%,rgb(46,135,247) 28.125%,rgb(46,135,247) 29.688%,rgb(45,140,243) 29.688%,rgb(45,140,243) 31.250%,rgb(43,145,239) 31.250%,rgb(43,145,239) 32.812%,rgb(39,151,235) 32.812%,rgb(39,151,235) 34.375%,rgb(37,155,232) 34.375%,rgb(37,155,232) 35.938%,rgb(35,160,229) 35.938%,rgb(35,160,229) 37.500%,rgb(32,165,227) 37.500%,rgb(32,165,227) 39.062%,rgb(28,169,223) 39.062%,rgb(28,169,223) 40.625%,rgb(24,173,219) 40.625%,rgb(24,173,219) 42.188%,rgb(18,177,214) 42.188%,rgb(18,177,214) 43.750%,rgb(8,181,208) 43.750%,rgb(8,181,208) 45.312%,rgb(1,184,202) 45.312%,rgb(1,184,202) 46.875%,rgb(2,186,195) 46.875%,rgb(2,186,195) 48.438%,rgb(11,189,189) 48.438%,rgb(11,189,189) 50.000%,rgb(25,191,182) 50.000%,rgb(25,191,182) 51.562%,rgb(36,193,174) 51.562%,rgb(36,193,174) 53.125%,rgb(44,196,167) 53.125%,rgb(44,196,167) 54.688%,rgb(49,198,159) 54.688%,rgb(49,198,159) 56.250%,rgb(55,200,151) 56.250%,rgb(55,200,151) 57.812%,rgb(63,202,142) 57.812%,rgb(63,202,142) 59.375%,rgb(74,203,132) 59.375%,rgb(74,203,132) 60.938%,rgb(87,204,122) 60.938%,rgb(87,204,122) 62.500%,rgb(100,205,111) 62.500%,rgb(100,205,111) 64.062%,rgb(114,205,100) 64.062%,rgb(114,205,100) 65.625%,rgb(129,204,89) 65.625%,rgb(129,204,89) 67.188%,rgb(143,203,78) 67.188%,rgb(143,203,78) 68.750%,rgb(157,201,67) 68.750%,rgb(157,201,67) 70.312%,rgb(171,199,57) 70.312%,rgb(171,199,57) 71.875%,rgb(185,196,49) 71.875%,rgb(185,196,49) 73.438%,rgb(197,194,42) 73.438%,rgb(197,194,42) 75.000%,rgb(209,191,39) 75.000%,rgb(209,191,39) 76.562%,rgb(220,189,41) 76.562%,rgb(220,189,41) 78.125%,rgb(230,187,45) 78.125%,rgb(230,187,45) 79.688%,rgb(240,186,54) 79.688%,rgb(240,186,54) 81.250%,rgb(248,186,61) 81.250%,rgb(248,186,61) 82.812%,rgb(254,190,60) 82.812%,rgb(254,190,60) 84.375%,rgb(254,195,56) 84.375%,rgb(254,195,56) 85.938%,rgb(254,201,52) 85.938%,rgb(254,201,52) 87.500%,rgb(252,207,48) 87.500%,rgb(252,207,48) 89.062%,rgb(250,214,45) 89.062%,rgb(250,214,45) 90.625%,rgb(247,220,42) 90.625%,rgb(247,220,42) 92.188%,rgb(245,227,39) 92.188%,rgb(245,227,39) 93.750%,rgb(245,233,36) 93.750%,rgb(245,233,36) 95.312%,rgb(246,239,32) 95.312%,rgb(246,239,32) 96.875%,rgb(247,245,27) 96.875%,rgb(247,245,27) 98.438%,rgb(249,251,21) 98.438%,rgb(249,251,21) 100.000%)"></div>
<svg width="1400" height="1273" viewBox="0 0 1400 1273">
<defs><clipPath id="clc"><rect x="1086" y="87" width="313" height="254.5"/></clipPath><clipPath id="clf"><rect x="1086" y="517" width="313" height="254"/></clipPath><clipPath id="cli"><rect x="1086" y="948.5" width="312" height="252.2"/></clipPath></defs>
<rect x="227.25" y="87.95" width="252.40" height="252.10" fill="none" stroke="#262626" stroke-width="1.9"/>
<path d="M269.40 340.00v-4.0M269.40 88.00v4.0M353.40 340.00v-4.0M353.40 88.00v4.0M437.40 340.00v-4.0M437.40 88.00v4.0M227.30 142.20h4.0M479.60 142.20h-4.0M227.30 214.00h4.0M479.60 214.00h-4.0M227.30 285.60h4.0M479.60 285.60h-4.0" stroke="#262626" stroke-width="1.4" fill="none"/>
<text x="249.96" y="369.10" font-size="28.0" textLength="38.91" lengthAdjust="spacingAndGlyphs" fill="#262626">-10</text>
<text x="346.40" y="369.10" font-size="28.0" textLength="14.00" lengthAdjust="spacingAndGlyphs" fill="#262626">0</text>
<text x="422.70" y="369.10" font-size="28.0" textLength="28.00" lengthAdjust="spacingAndGlyphs" fill="#262626">10</text>
<text x="198.15" y="149.40" font-size="28.0" textLength="25.01" lengthAdjust="spacingAndGlyphs" fill="#262626">-2</text>
<text x="208.57" y="221.20" font-size="28.0" textLength="14.00" lengthAdjust="spacingAndGlyphs" fill="#262626">0</text>
<text x="209.04" y="292.80" font-size="28.0" textLength="14.00" lengthAdjust="spacingAndGlyphs" fill="#262626">2</text>
<rect x="598.05" y="87.95" width="252.00" height="252.10" fill="none" stroke="#262626" stroke-width="1.9"/>
<path d="M640.10 340.00v-4.0M640.10 88.00v4.0M724.10 340.00v-4.0M724.10 88.00v4.0M808.10 340.00v-4.0M808.10 88.00v4.0M598.10 142.20h4.0M850.00 142.20h-4.0M598.10 214.00h4.0M850.00 214.00h-4.0M598.10 285.60h4.0M850.00 285.60h-4.0" stroke="#262626" stroke-width="1.4" fill="none"/>
<text x="620.66" y="369.10" font-size="28.0" textLength="38.91" lengthAdjust="spacingAndGlyphs" fill="#262626">-10</text>
<text x="717.10" y="369.10" font-size="28.0" textLength="14.00" lengthAdjust="spacingAndGlyphs" fill="#262626">0</text>
<text x="793.40" y="369.10" font-size="28.0" textLength="28.00" lengthAdjust="spacingAndGlyphs" fill="#262626">10</text>
<text x="568.95" y="149.40" font-size="28.0" textLength="25.01" lengthAdjust="spacingAndGlyphs" fill="#262626">-2</text>
<text x="579.37" y="221.20" font-size="28.0" textLength="14.00" lengthAdjust="spacingAndGlyphs" fill="#262626">0</text>
<text x="579.84" y="292.80" font-size="28.0" textLength="14.00" lengthAdjust="spacingAndGlyphs" fill="#262626">2</text>
<rect x="227.15" y="517.95" width="252.50" height="252.10" fill="none" stroke="#262626" stroke-width="1.9"/>
<path d="M275.40 770.00v-4.0M275.40 518.00v4.0M353.60 770.00v-4.0M353.60 518.00v4.0M432.00 770.00v-4.0M432.00 518.00v4.0M227.20 543.20h4.0M479.60 543.20h-4.0M227.20 643.60h4.0M479.60 643.60h-4.0M227.20 744.00h4.0M479.60 744.00h-4.0" stroke="#262626" stroke-width="1.4" fill="none"/>
<text x="262.94" y="799.10" font-size="28.0" textLength="24.98" lengthAdjust="spacingAndGlyphs" fill="#262626">-5</text>
<text x="346.60" y="799.10" font-size="28.0" textLength="14.00" lengthAdjust="spacingAndGlyphs" fill="#262626">0</text>
<text x="424.73" y="799.10" font-size="28.0" textLength="14.00" lengthAdjust="spacingAndGlyphs" fill="#262626">5</text>
<text x="198.05" y="550.40" font-size="28.0" textLength="25.01" lengthAdjust="spacingAndGlyphs" fill="#262626">-2</text>
<text x="208.47" y="650.80" font-size="28.0" textLength="14.00" lengthAdjust="spacingAndGlyphs" fill="#262626">0</text>
<text x="208.94" y="751.20" font-size="28.0" textLength="14.00" lengthAdjust="spacingAndGlyphs" fill="#262626">2</text>
<rect x="598.05" y="517.95" width="252.00" height="252.10" fill="none" stroke="#262626" stroke-width="1.9"/>
<path d="M646.00 770.00v-4.0M646.00 518.00v4.0M724.20 770.00v-4.0M724.20 518.00v4.0M802.60 770.00v-4.0M802.60 518.00v4.0M598.10 543.20h4.0M850.00 543.20h-4.0M598.10 643.60h4.0M850.00 643.60h-4.0M598.10 744.00h4.0M850.00 744.00h-4.0" stroke="#262626" stroke-width="1.4" fill="none"/>
<text x="633.54" y="799.10" font-size="28.0" textLength="24.98" lengthAdjust="spacingAndGlyphs" fill="#262626">-5</text>
<text x="717.20" y="799.10" font-size="28.0" textLength="14.00" lengthAdjust="spacingAndGlyphs" fill="#262626">0</text>
<text x="795.33" y="799.10" font-size="28.0" textLength="14.00" lengthAdjust="spacingAndGlyphs" fill="#262626">5</text>
<text x="568.95" y="550.40" font-size="28.0" textLength="25.01" lengthAdjust="spacingAndGlyphs" fill="#262626">-2</text>
<text x="579.37" y="650.80" font-size="28.0" textLength="14.00" lengthAdjust="spacingAndGlyphs" fill="#262626">0</text>
<text x="579.84" y="751.20" font-size="28.0" textLength="14.00" lengthAdjust="spacingAndGlyphs" fill="#262626">2</text>
<rect x="228.95" y="950.25" width="249.30" height="249.60" fill="none" stroke="#262626" stroke-width="1.9"/>
<path d="M275.70 1199.80v-4.0M275.70 950.30v4.0M353.60 1199.80v-4.0M353.60 950.30v4.0M431.30 1199.80v-4.0M431.30 950.30v4.0M229.00 975.50h4.0M478.20 975.50h-4.0M229.00 1075.30h4.0M478.20 1075.30h-4.0M229.00 1175.10h4.0M478.20 1175.10h-4.0" stroke="#262626" stroke-width="1.4" fill="none"/>
<text x="263.24" y="1228.90" font-size="28.0" textLength="24.98" lengthAdjust="spacingAndGlyphs" fill="#262626">-5</text>
<text x="346.60" y="1228.90" font-size="28.0" textLength="14.00" lengthAdjust="spacingAndGlyphs" fill="#262626">0</text>
<text x="424.03" y="1228.90" font-size="28.0" textLength="14.00" lengthAdjust="spacingAndGlyphs" fill="#262626">5</text>
<text x="199.85" y="982.70" font-size="28.0" textLength="25.01" lengthAdjust="spacingAndGlyphs" fill="#262626">-2</text>
<text x="210.27" y="1082.50" font-size="28.0" textLength="14.00" lengthAdjust="spacingAndGlyphs" fill="#262626">0</text>
<text x="210.74" y="1182.30" font-size="28.0" textLength="14.00" lengthAdjust="spacingAndGlyphs" fill="#262626">2</text>
<rect x="599.05" y="950.45" width="249.70" height="249.40" fill="none" stroke="#262626" stroke-width="1.9"/>
<path d="M646.10 1199.80v-4.0M646.10 950.50v4.0M724.00 1199.80v-4.0M724.00 950.50v4.0M801.70 1199.80v-4.0M801.70 950.50v4.0M599.10 975.40h4.0M848.70 975.40h-4.0M599.10 1075.20h4.0M848.70 1075.20h-4.0M599.10 1175.00h4.0M848.70 1175.00h-4.0" stroke="#262626" stroke-width="1.4" fill="none"/>
<text x="633.64" y="1228.90" font-size="28.0" textLength="24.98" lengthAdjust="spacingAndGlyphs" fill="#262626">-5</text>
<text x="717.00" y="1228.90" font-size="28.0" textLength="14.00" lengthAdjust="spacingAndGlyphs" fill="#262626">0</text>
<text x="794.43" y="1228.90" font-size="28.0" textLength="14.00" lengthAdjust="spacingAndGlyphs" fill="#262626">5</text>
<text x="569.95" y="982.60" font-size="28.0" textLength="25.01" lengthAdjust="spacingAndGlyphs" fill="#262626">-2</text>
<text x="580.37" y="1082.40" font-size="28.0" textLength="14.00" lengthAdjust="spacingAndGlyphs" fill="#262626">0</text>
<text x="580.84" y="1182.20" font-size="28.0" textLength="14.00" lengthAdjust="spacingAndGlyphs" fill="#262626">2</text>
<text x="315.60" y="404.40" font-size="32" textLength="10.72" lengthAdjust="spacingAndGlyphs" font-style="italic" fill="#262626">t</text>
<text x="339.09" y="404.40" font-size="33.5" textLength="49.92" lengthAdjust="spacingAndGlyphs" fill="#262626">(ps)</text>
<text x="686.30" y="404.40" font-size="32" textLength="10.72" lengthAdjust="spacingAndGlyphs" font-style="italic" fill="#262626">t</text>
<text x="709.79" y="404.40" font-size="33.5" textLength="49.92" lengthAdjust="spacingAndGlyphs" fill="#262626">(ps)</text>
<text x="1205.20" y="404.40" font-size="32" textLength="10.72" lengthAdjust="spacingAndGlyphs" font-style="italic" fill="#262626">t</text>
<text x="1228.69" y="404.40" font-size="33.5" textLength="49.92" lengthAdjust="spacingAndGlyphs" fill="#262626">(ps)</text>
<text x="309.70" y="834.70" font-size="32" textLength="10.72" lengthAdjust="spacingAndGlyphs" font-style="italic" fill="#262626">t</text>
<text x="321.35" y="838.60" font-size="22.5" textLength="10.51" lengthAdjust="spacingAndGlyphs" fill="#262626">1</text>
<text x="345.30" y="834.70" font-size="33.5" textLength="49.60" lengthAdjust="spacingAndGlyphs" fill="#262626">(ps)</text>
<text x="680.30" y="834.70" font-size="32" textLength="10.72" lengthAdjust="spacingAndGlyphs" font-style="italic" fill="#262626">t</text>
<text x="691.95" y="838.60" font-size="22.5" textLength="10.51" lengthAdjust="spacingAndGlyphs" fill="#262626">1</text>
<text x="715.90" y="834.70" font-size="33.5" textLength="49.60" lengthAdjust="spacingAndGlyphs" fill="#262626">(ps)</text>
<text x="1198.60" y="834.70" font-size="32" textLength="10.72" lengthAdjust="spacingAndGlyphs" font-style="italic" fill="#262626">t</text>
<text x="1210.25" y="838.60" font-size="22.5" textLength="10.51" lengthAdjust="spacingAndGlyphs" fill="#262626">1</text>
<text x="1234.20" y="834.70" font-size="33.5" textLength="49.60" lengthAdjust="spacingAndGlyphs" fill="#262626">(ps)</text>
<text x="309.85" y="1264.20" font-size="32" textLength="10.72" lengthAdjust="spacingAndGlyphs" font-style="italic" fill="#262626">t</text>
<text x="321.50" y="1268.10" font-size="22.5" textLength="10.51" lengthAdjust="spacingAndGlyphs" fill="#262626">1</text>
<text x="345.45" y="1264.20" font-size="33.5" textLength="49.60" lengthAdjust="spacingAndGlyphs" fill="#262626">(ps)</text>
<text x="680.20" y="1264.20" font-size="32" textLength="10.72" lengthAdjust="spacingAndGlyphs" font-style="italic" fill="#262626">t</text>
<text x="691.85" y="1268.10" font-size="22.5" textLength="10.51" lengthAdjust="spacingAndGlyphs" fill="#262626">1</text>
<text x="715.80" y="1264.20" font-size="33.5" textLength="49.60" lengthAdjust="spacingAndGlyphs" fill="#262626">(ps)</text>
<text x="1198.30" y="1264.20" font-size="32" textLength="10.72" lengthAdjust="spacingAndGlyphs" font-style="italic" fill="#262626">t</text>
<text x="1209.95" y="1268.10" font-size="22.5" textLength="10.51" lengthAdjust="spacingAndGlyphs" fill="#262626">1</text>
<text x="1233.90" y="1264.20" font-size="33.5" textLength="49.60" lengthAdjust="spacingAndGlyphs" fill="#262626">(ps)</text>
<g transform="translate(185.00,263.60) rotate(-90)">
<text x="0.40" y="0.00" font-size="32" textLength="14.54" lengthAdjust="spacingAndGlyphs" font-style="italic" fill="#262626">x</text>
<text x="27.90" y="0.00" font-size="33.5" textLength="70.59" lengthAdjust="spacingAndGlyphs" fill="#262626">(mm)</text>
</g>
<g transform="translate(555.80,263.60) rotate(-90)">
<text x="0.40" y="0.00" font-size="32" textLength="14.54" lengthAdjust="spacingAndGlyphs" font-style="italic" fill="#262626">x</text>
<text x="27.90" y="0.00" font-size="33.5" textLength="70.59" lengthAdjust="spacingAndGlyphs" fill="#262626">(mm)</text>
</g>
<g transform="translate(185.20,699.60) rotate(-90)">
<text x="0.42" y="0.00" font-size="32" textLength="15.43" lengthAdjust="spacingAndGlyphs" font-style="italic" fill="#262626">x</text>
<text x="16.52" y="4.20" font-size="22.5" textLength="9.98" lengthAdjust="spacingAndGlyphs" fill="#262626">2</text>
<text x="40.11" y="0.00" font-size="33.5" textLength="70.18" lengthAdjust="spacingAndGlyphs" fill="#262626">(mm)</text>
</g>
<g transform="translate(556.00,699.60) rotate(-90)">
<text x="0.42" y="0.00" font-size="32" textLength="15.43" lengthAdjust="spacingAndGlyphs" font-style="italic" fill="#262626">x</text>
<text x="16.52" y="4.20" font-size="22.5" textLength="9.98" lengthAdjust="spacingAndGlyphs" fill="#262626">2</text>
<text x="40.11" y="0.00" font-size="33.5" textLength="70.18" lengthAdjust="spacingAndGlyphs" fill="#262626">(mm)</text>
</g>
<g transform="translate(186.90,1130.70) rotate(-90)">
<text x="0.42" y="0.00" font-size="32" textLength="15.43" lengthAdjust="spacingAndGlyphs" font-style="italic" fill="#262626">x</text>
<text x="16.52" y="4.20" font-size="22.5" textLength="9.98" lengthAdjust="spacingAndGlyphs" fill="#262626">2</text>
<text x="40.11" y="0.00" font-size="33.5" textLength="70.18" lengthAdjust="spacingAndGlyphs" fill="#262626">(mm)</text>
</g>
<g transform="translate(557.00,1130.70) rotate(-90)">
<text x="0.42" y="0.00" font-size="32" textLength="15.43" lengthAdjust="spacingAndGlyphs" font-style="italic" fill="#262626">x</text>
<text x="16.52" y="4.20" font-size="22.5" textLength="9.98" lengthAdjust="spacingAndGlyphs" fill="#262626">2</text>
<text x="40.11" y="0.00" font-size="33.5" textLength="70.18" lengthAdjust="spacingAndGlyphs" fill="#262626">(mm)</text>
</g>
<rect x="863.15" y="88.15" width="25.50" height="251.70" fill="none" stroke="#262626" stroke-width="1.9"/>
<text x="898.86" y="93.80" font-size="25.5" textLength="12.75" lengthAdjust="spacingAndGlyphs" fill="#262626">1</text>
<text x="900.13" y="220.20" font-size="25.5" textLength="31.88" lengthAdjust="spacingAndGlyphs" fill="#262626">0.5</text>
<text x="900.13" y="346.60" font-size="25.5" textLength="12.75" lengthAdjust="spacingAndGlyphs" fill="#262626">0</text>
<path d="M888.60 214.00h-4" stroke="#262626" stroke-width="1.4" fill="none"/>
<rect x="863.15" y="517.95" width="25.50" height="252.10" fill="none" stroke="#262626" stroke-width="1.9"/>
<text x="898.86" y="523.80" font-size="25.5" textLength="12.75" lengthAdjust="spacingAndGlyphs" fill="#262626">1</text>
<text x="900.13" y="650.20" font-size="25.5" textLength="31.88" lengthAdjust="spacingAndGlyphs" fill="#262626">0.5</text>
<text x="900.13" y="776.60" font-size="25.5" textLength="12.75" lengthAdjust="spacingAndGlyphs" fill="#262626">0</text>
<path d="M888.60 644.00h-4" stroke="#262626" stroke-width="1.4" fill="none"/>
<rect x="863.15" y="950.45" width="25.50" height="249.10" fill="none" stroke="#262626" stroke-width="1.9"/>
<text x="900.13" y="994.50" font-size="25.5" textLength="31.88" lengthAdjust="spacingAndGlyphs" fill="#262626">0.1</text>
<text x="900.13" y="1037.80" font-size="25.5" textLength="44.62" lengthAdjust="spacingAndGlyphs" fill="#262626">0.05</text>
<text x="900.13" y="1081.00" font-size="25.5" textLength="12.75" lengthAdjust="spacingAndGlyphs" fill="#262626">0</text>
<text x="900.15" y="1124.90" font-size="25.5" textLength="53.12" lengthAdjust="spacingAndGlyphs" fill="#262626">-0.05</text>
<text x="900.15" y="1168.20" font-size="25.5" textLength="40.37" lengthAdjust="spacingAndGlyphs" fill="#262626">-0.1</text>
<path d="M888.60 988.30h-4M888.60 1031.60h-4M888.60 1074.80h-4M888.60 1118.70h-4M888.60 1162.00h-4" stroke="#262626" stroke-width="1.4" fill="none"/>
<path d="M1139.00 87.00V341.30M1242.50 87.00V341.30M1346.20 87.00V341.30M1086.00 138.90H1399.10M1086.00 189.20H1399.10M1086.00 239.60H1399.10M1086.00 290.00H1399.10" stroke="#dedede" stroke-width="1.5" fill="none"/>
<path d="M1139.00 340.30v-4.0M1139.00 88.00v4.0M1242.50 340.30v-4.0M1242.50 88.00v4.0M1346.20 340.30v-4.0M1346.20 88.00v4.0M1087.00 138.90h4.0M1398.10 138.90h-4.0M1087.00 189.20h4.0M1398.10 189.20h-4.0M1087.00 239.60h4.0M1398.10 239.60h-4.0M1087.00 290.00h4.0M1398.10 290.00h-4.0" stroke="#262626" stroke-width="1.4" fill="none"/>
<text x="1119.56" y="369.40" font-size="28.0" textLength="38.91" lengthAdjust="spacingAndGlyphs" fill="#262626">-10</text>
<text x="1235.50" y="369.40" font-size="28.0" textLength="14.00" lengthAdjust="spacingAndGlyphs" fill="#262626">0</text>
<text x="1331.50" y="369.40" font-size="28.0" textLength="28.00" lengthAdjust="spacingAndGlyphs" fill="#262626">10</text>
<text x="1047.17" y="145.90" font-size="28.0" textLength="35.00" lengthAdjust="spacingAndGlyphs" fill="#262626">0.8</text>
<text x="1046.93" y="196.20" font-size="28.0" textLength="35.00" lengthAdjust="spacingAndGlyphs" fill="#262626">0.6</text>
<text x="1046.54" y="246.60" font-size="28.0" textLength="35.00" lengthAdjust="spacingAndGlyphs" fill="#262626">0.4</text>
<text x="1047.64" y="297.00" font-size="28.0" textLength="35.00" lengthAdjust="spacingAndGlyphs" fill="#262626">0.2</text>
<rect x="1086.95" y="87.95" width="311.20" height="252.40" fill="none" stroke="#262626" stroke-width="1.9"/>
<g clip-path="url(#clc)">
<polyline points="1087.00,340.29 1087.44,340.29 1087.89,340.29 1088.33,340.29 1088.78,340.29 1089.22,340.29 1089.67,340.29 1090.11,340.29 1090.56,340.29 1091.00,340.28 1091.44,340.28 1091.89,340.28 1092.33,340.28 1092.78,340.28 1093.22,340.28 1093.67,340.28 1094.11,340.28 1094.56,340.28 1095.00,340.27 1095.44,340.27 1095.89,340.27 1096.33,340.27 1096.78,340.27 1097.22,340.27 1097.67,340.26 1098.11,340.26 1098.56,340.26 1099.00,340.26 1099.44,340.26 1099.89,340.25 1100.33,340.25 1100.78,340.25 1101.22,340.24 1101.67,340.24 1102.11,340.24 1102.56,340.24 1103.00,340.23 1103.44,340.23 1103.89,340.22 1104.33,340.22 1104.78,340.22 1105.22,340.21 1105.67,340.21 1106.11,340.20 1106.55,340.20 1107.00,340.19 1107.44,340.19 1107.89,340.18 1108.33,340.17 1108.78,340.17 1109.22,340.16 1109.67,340.15 1110.11,340.14 1110.55,340.14 1111.00,340.13 1111.44,340.12 1111.89,340.11 1112.33,340.10 1112.78,340.09 1113.22,340.08 1113.67,340.07 1114.11,340.06 1114.55,340.05 1115.00,340.03 1115.44,340.02 1115.89,340.01 1116.33,339.99 1116.78,339.98 1117.22,339.96 1117.67,339.95 1118.11,339.93 1118.55,339.91 1119.00,339.89 1119.44,339.87 1119.89,339.85 1120.33,339.83 1120.78,339.81 1121.22,339.79 1121.67,339.77 1122.11,339.74 1122.55,339.71 1123.00,339.69 1123.44,339.66 1123.89,339.63 1124.33,339.60 1124.78,339.57 1125.22,339.54 1125.67,339.50 1126.11,339.46 1126.55,339.43 1127.00,339.39 1127.44,339.35 1127.89,339.31 1128.33,339.26 1128.78,339.22 1129.22,339.17 1129.67,339.12 1130.11,339.07 1130.55,339.02 1131.00,338.96 1131.44,338.91 1131.89,338.85 1132.33,338.78 1132.78,338.72 1133.22,338.65 1133.66,338.58 1134.11,338.51 1134.55,338.44 1135.00,338.36 1135.44,338.28 1135.89,338.20 1136.33,338.11 1136.78,338.03 1137.22,337.93 1137.66,337.84 1138.11,337.74 1138.55,337.64 1139.00,337.53 1139.44,337.42 1139.89,337.31 1140.33,337.19 1140.78,337.07 1141.22,336.94 1141.66,336.81 1142.11,336.68 1142.55,336.54 1143.00,336.40 1143.44,336.25 1143.89,336.10 1144.33,335.94 1144.78,335.77 1145.22,335.61 1145.66,335.43 1146.11,335.25 1146.55,335.07 1147.00,334.87 1147.44,334.68 1147.89,334.47 1148.33,334.26 1148.78,334.05 1149.22,333.82 1149.66,333.59 1150.11,333.35 1150.55,333.11 1151.00,332.86 1151.44,332.60 1151.89,332.33 1152.33,332.06 1152.78,331.77 1153.22,331.48 1153.66,331.18 1154.11,330.87 1154.55,330.55 1155.00,330.23 1155.44,329.89 1155.89,329.55 1156.33,329.19 1156.78,328.83 1157.22,328.46 1157.66,328.07 1158.11,327.68 1158.55,327.27 1159.00,326.85 1159.44,326.43 1159.89,325.99 1160.33,325.54 1160.78,325.08 1161.22,324.61 1161.66,324.12 1162.11,323.62 1162.55,323.11 1163.00,322.59 1163.44,322.06 1163.89,321.51 1164.33,320.95 1164.78,320.37 1165.22,319.79 1165.66,319.18 1166.11,318.57 1166.55,317.94 1167.00,317.29 1167.44,316.64 1167.89,315.96 1168.33,315.27 1168.77,314.57 1169.22,313.85 1169.66,313.11 1170.11,312.36 1170.55,311.60 1171.00,310.81 1171.44,310.02 1171.89,309.20 1172.33,308.37 1172.77,307.52 1173.22,306.65 1173.66,305.77 1174.11,304.87 1174.55,303.95 1175.00,303.02 1175.44,302.07 1175.89,301.10 1176.33,300.11 1176.77,299.10 1177.22,298.08 1177.66,297.03 1178.11,295.97 1178.55,294.89 1179.00,293.80 1179.44,292.68 1179.89,291.55 1180.33,290.39 1180.77,289.22 1181.22,288.03 1181.66,286.82 1182.11,285.59 1182.55,284.34 1183.00,283.08 1183.44,281.79 1183.89,280.49 1184.33,279.16 1184.77,277.82 1185.22,276.46 1185.66,275.08 1186.11,273.69 1186.55,272.27 1187.00,270.83 1187.44,269.38 1187.89,267.91 1188.33,266.42 1188.77,264.91 1189.22,263.39 1189.66,261.84 1190.11,260.28 1190.55,258.71 1191.00,257.11 1191.44,255.50 1191.89,253.87 1192.33,252.22 1192.77,250.56 1193.22,248.89 1193.66,247.19 1194.11,245.48 1194.55,243.76 1195.00,242.02 1195.44,240.27 1195.88,238.50 1196.33,236.72 1196.77,234.92 1197.22,233.11 1197.66,231.29 1198.11,229.46 1198.55,227.61 1199.00,225.76 1199.44,223.89 1199.88,222.01 1200.33,220.12 1200.77,218.22 1201.22,216.32 1201.66,214.40 1202.11,212.48 1202.55,210.54 1203.00,208.60 1203.44,206.66 1203.88,204.71 1204.33,202.75 1204.77,200.79 1205.22,198.82 1205.66,196.85 1206.11,194.88 1206.55,192.90 1207.00,190.93 1207.44,188.95 1207.88,186.97 1208.33,184.99 1208.77,183.01 1209.22,181.03 1209.66,179.06 1210.11,177.09 1210.55,175.12 1211.00,173.16 1211.44,171.20 1211.88,169.25 1212.33,167.30 1212.77,165.36 1213.22,163.43 1213.66,161.51 1214.11,159.59 1214.55,157.69 1215.00,155.80 1215.44,153.92 1215.88,152.05 1216.33,150.20 1216.77,148.35 1217.22,146.53 1217.66,144.72 1218.11,142.92 1218.55,141.15 1219.00,139.38 1219.44,137.64 1219.88,135.92 1220.33,134.22 1220.77,132.54 1221.22,130.88 1221.66,129.24 1222.11,127.62 1222.55,126.03 1223.00,124.46 1223.44,122.92 1223.88,121.40 1224.33,119.91 1224.77,118.45 1225.22,117.01 1225.66,115.60 1226.11,114.22 1226.55,112.88 1226.99,111.56 1227.44,110.27 1227.88,109.01 1228.33,107.79 1228.77,106.60 1229.22,105.44 1229.66,104.31 1230.11,103.22 1230.55,102.17 1230.99,101.15 1231.44,100.17 1231.88,99.22 1232.33,98.31 1232.77,97.43 1233.22,96.60 1233.66,95.80 1234.11,95.04 1234.55,94.32 1234.99,93.64 1235.44,93.00 1235.88,92.40 1236.33,91.84 1236.77,91.32 1237.22,90.84 1237.66,90.40 1238.11,90.00 1238.55,89.64 1238.99,89.33 1239.44,89.06 1239.88,88.82 1240.33,88.64 1240.77,88.49 1241.22,88.38 1241.66,88.32 1242.11,88.30 1242.55,88.32 1242.99,88.39 1243.44,88.49 1243.88,88.64 1244.33,88.83 1244.77,89.06 1245.22,89.34 1245.66,89.65 1246.11,90.01 1246.55,90.41 1246.99,90.85 1247.44,91.33 1247.88,91.85 1248.33,92.41 1248.77,93.02 1249.22,93.66 1249.66,94.34 1250.11,95.06 1250.55,95.82 1250.99,96.62 1251.44,97.46 1251.88,98.33 1252.33,99.24 1252.77,100.19 1253.22,101.17 1253.66,102.20 1254.11,103.25 1254.55,104.34 1254.99,105.47 1255.44,106.63 1255.88,107.82 1256.33,109.04 1256.77,110.30 1257.22,111.59 1257.66,112.91 1258.11,114.26 1258.55,115.64 1258.99,117.05 1259.44,118.48 1259.88,119.95 1260.33,121.44 1260.77,122.96 1261.22,124.50 1261.66,126.07 1262.10,127.66 1262.55,129.28 1262.99,130.92 1263.44,132.58 1263.88,134.26 1264.33,135.96 1264.77,137.69 1265.22,139.43 1265.66,141.19 1266.10,142.97 1266.55,144.76 1266.99,146.57 1267.44,148.40 1267.88,150.24 1268.33,152.10 1268.77,153.97 1269.22,155.85 1269.66,157.74 1270.10,159.64 1270.55,161.56 1270.99,163.48 1271.44,165.41 1271.88,167.35 1272.33,169.30 1272.77,171.25 1273.22,173.21 1273.66,175.17 1274.10,177.14 1274.55,179.11 1274.99,181.08 1275.44,183.06 1275.88,185.04 1276.33,187.02 1276.77,189.00 1277.22,190.97 1277.66,192.95 1278.10,194.93 1278.55,196.90 1278.99,198.87 1279.44,200.84 1279.88,202.80 1280.33,204.76 1280.77,206.71 1281.22,208.65 1281.66,210.59 1282.10,212.52 1282.55,214.45 1282.99,216.36 1283.44,218.27 1283.88,220.17 1284.33,222.06 1284.77,223.94 1285.22,225.80 1285.66,227.66 1286.10,229.51 1286.55,231.34 1286.99,233.16 1287.44,234.97 1287.88,236.76 1288.33,238.54 1288.77,240.31 1289.21,242.06 1289.66,243.80 1290.10,245.53 1290.55,247.23 1290.99,248.93 1291.44,250.60 1291.88,252.27 1292.33,253.91 1292.77,255.54 1293.21,257.15 1293.66,258.75 1294.10,260.32 1294.55,261.88 1294.99,263.43 1295.44,264.95 1295.88,266.46 1296.33,267.95 1296.77,269.42 1297.21,270.87 1297.66,272.30 1298.10,273.72 1298.55,275.12 1298.99,276.50 1299.44,277.86 1299.88,279.20 1300.33,280.52 1300.77,281.82 1301.21,283.11 1301.66,284.37 1302.10,285.62 1302.55,286.85 1302.99,288.06 1303.44,289.25 1303.88,290.42 1304.33,291.57 1304.77,292.71 1305.21,293.82 1305.66,294.92 1306.10,296.00 1306.55,297.06 1306.99,298.10 1307.44,299.13 1307.88,300.13 1308.33,301.12 1308.77,302.09 1309.21,303.04 1309.66,303.98 1310.10,304.89 1310.55,305.79 1310.99,306.68 1311.44,307.54 1311.88,308.39 1312.33,309.22 1312.77,310.04 1313.21,310.83 1313.66,311.62 1314.10,312.38 1314.55,313.13 1314.99,313.87 1315.44,314.59 1315.88,315.29 1316.33,315.98 1316.77,316.65 1317.21,317.31 1317.66,317.96 1318.10,318.58 1318.55,319.20 1318.99,319.80 1319.44,320.39 1319.88,320.96 1320.32,321.52 1320.77,322.07 1321.21,322.61 1321.66,323.13 1322.10,323.64 1322.55,324.13 1322.99,324.62 1323.44,325.09 1323.88,325.55 1324.32,326.00 1324.77,326.44 1325.21,326.87 1325.66,327.28 1326.10,327.69 1326.55,328.08 1326.99,328.46 1327.44,328.84 1327.88,329.20 1328.32,329.56 1328.77,329.90 1329.21,330.24 1329.66,330.56 1330.10,330.88 1330.55,331.19 1330.99,331.49 1331.44,331.78 1331.88,332.06 1332.32,332.34 1332.77,332.60 1333.21,332.86 1333.66,333.12 1334.10,333.36 1334.55,333.60 1334.99,333.83 1335.44,334.05 1335.88,334.27 1336.32,334.48 1336.77,334.68 1337.21,334.88 1337.66,335.07 1338.10,335.26 1338.55,335.44 1338.99,335.61 1339.44,335.78 1339.88,335.94 1340.32,336.10 1340.77,336.25 1341.21,336.40 1341.66,336.55 1342.10,336.68 1342.55,336.82 1342.99,336.95 1343.44,337.07 1343.88,337.19 1344.32,337.31 1344.77,337.42 1345.21,337.53 1345.66,337.64 1346.10,337.74 1346.55,337.84 1346.99,337.94 1347.44,338.03 1347.88,338.12 1348.32,338.20 1348.77,338.28 1349.21,338.36 1349.66,338.44 1350.10,338.52 1350.55,338.59 1350.99,338.66 1351.43,338.72 1351.88,338.79 1352.32,338.85 1352.77,338.91 1353.21,338.96 1353.66,339.02 1354.10,339.07 1354.55,339.12 1354.99,339.17 1355.43,339.22 1355.88,339.26 1356.32,339.31 1356.77,339.35 1357.21,339.39 1357.66,339.43 1358.10,339.47 1358.55,339.50 1358.99,339.54 1359.43,339.57 1359.88,339.60 1360.32,339.63 1360.77,339.66 1361.21,339.69 1361.66,339.72 1362.10,339.74 1362.55,339.77 1362.99,339.79 1363.43,339.81 1363.88,339.83 1364.32,339.86 1364.77,339.88 1365.21,339.89 1365.66,339.91 1366.10,339.93 1366.55,339.95 1366.99,339.96 1367.43,339.98 1367.88,339.99 1368.32,340.01 1368.77,340.02 1369.21,340.03 1369.66,340.05 1370.10,340.06 1370.55,340.07 1370.99,340.08 1371.43,340.09 1371.88,340.10 1372.32,340.11 1372.77,340.12 1373.21,340.13 1373.66,340.14 1374.10,340.15 1374.55,340.15 1374.99,340.16 1375.43,340.17 1375.88,340.17 1376.32,340.18 1376.77,340.19 1377.21,340.19 1377.66,340.20 1378.10,340.20 1378.55,340.21 1378.99,340.21 1379.43,340.22 1379.88,340.22 1380.32,340.22 1380.77,340.23 1381.21,340.23 1381.66,340.24 1382.10,340.24 1382.54,340.24 1382.99,340.24 1383.43,340.25 1383.88,340.25 1384.32,340.25 1384.77,340.26 1385.21,340.26 1385.66,340.26 1386.10,340.26 1386.54,340.26 1386.99,340.27 1387.43,340.27 1387.88,340.27 1388.32,340.27 1388.77,340.27 1389.21,340.27 1389.66,340.28 1390.10,340.28 1390.54,340.28 1390.99,340.28 1391.43,340.28 1391.88,340.28 1392.32,340.28 1392.77,340.28 1393.21,340.28 1393.66,340.29 1394.10,340.29 1394.54,340.29 1394.99,340.29 1395.43,340.29 1395.88,340.29 1396.32,340.29 1396.77,340.29 1397.21,340.29 1397.66,340.29 1398.10,340.29" fill="none" stroke="#D95319" stroke-width="2.1" stroke-linejoin="round"/>
</g>
<path d="M1145.40 517.00V771.00M1242.30 517.00V771.00M1340.10 517.00V771.00M1086.00 567.70H1399.10M1086.00 618.40H1399.10M1086.00 668.80H1399.10M1086.00 719.10H1399.10" stroke="#dedede" stroke-width="1.5" fill="none"/>
<path d="M1145.40 770.00v-4.0M1145.40 518.00v4.0M1242.30 770.00v-4.0M1242.30 518.00v4.0M1340.10 770.00v-4.0M1340.10 518.00v4.0M1087.00 567.70h4.0M1398.10 567.70h-4.0M1087.00 618.40h4.0M1398.10 618.40h-4.0M1087.00 668.80h4.0M1398.10 668.80h-4.0M1087.00 719.10h4.0M1398.10 719.10h-4.0" stroke="#262626" stroke-width="1.4" fill="none"/>
<text x="1132.94" y="799.10" font-size="28.0" textLength="24.98" lengthAdjust="spacingAndGlyphs" fill="#262626">-5</text>
<text x="1235.30" y="799.10" font-size="28.0" textLength="14.00" lengthAdjust="spacingAndGlyphs" fill="#262626">0</text>
<text x="1332.83" y="799.10" font-size="28.0" textLength="14.00" lengthAdjust="spacingAndGlyphs" fill="#262626">5</text>
<text x="1047.17" y="574.70" font-size="28.0" textLength="35.00" lengthAdjust="spacingAndGlyphs" fill="#262626">0.8</text>
<text x="1046.93" y="625.40" font-size="28.0" textLength="35.00" lengthAdjust="spacingAndGlyphs" fill="#262626">0.6</text>
<text x="1046.54" y="675.80" font-size="28.0" textLength="35.00" lengthAdjust="spacingAndGlyphs" fill="#262626">0.4</text>
<text x="1047.64" y="726.10" font-size="28.0" textLength="35.00" lengthAdjust="spacingAndGlyphs" fill="#262626">0.2</text>
<text x="1068.17" y="776.50" font-size="28.0" textLength="14.00" lengthAdjust="spacingAndGlyphs" fill="#262626">0</text>
<rect x="1086.95" y="517.95" width="311.20" height="252.10" fill="none" stroke="#262626" stroke-width="1.9"/>
<g clip-path="url(#clf)">
<polyline points="1087.00,769.80 1087.44,769.80 1087.89,769.80 1088.33,769.80 1088.78,769.80 1089.22,769.80 1089.67,769.80 1090.11,769.80 1090.56,769.80 1091.00,769.80 1091.44,769.80 1091.89,769.80 1092.33,769.80 1092.78,769.80 1093.22,769.80 1093.67,769.80 1094.11,769.80 1094.56,769.80 1095.00,769.80 1095.44,769.80 1095.89,769.80 1096.33,769.80 1096.78,769.80 1097.22,769.80 1097.67,769.80 1098.11,769.80 1098.56,769.80 1099.00,769.80 1099.44,769.80 1099.89,769.80 1100.33,769.80 1100.78,769.80 1101.22,769.80 1101.67,769.80 1102.11,769.80 1102.56,769.80 1103.00,769.80 1103.44,769.80 1103.89,769.80 1104.33,769.80 1104.78,769.80 1105.22,769.80 1105.67,769.80 1106.11,769.80 1106.55,769.80 1107.00,769.80 1107.44,769.80 1107.89,769.80 1108.33,769.80 1108.78,769.80 1109.22,769.80 1109.67,769.80 1110.11,769.80 1110.55,769.80 1111.00,769.80 1111.44,769.80 1111.89,769.80 1112.33,769.80 1112.78,769.80 1113.22,769.80 1113.67,769.80 1114.11,769.80 1114.55,769.80 1115.00,769.80 1115.44,769.80 1115.89,769.80 1116.33,769.80 1116.78,769.80 1117.22,769.80 1117.67,769.80 1118.11,769.80 1118.55,769.80 1119.00,769.80 1119.44,769.80 1119.89,769.80 1120.33,769.80 1120.78,769.80 1121.22,769.80 1121.67,769.80 1122.11,769.80 1122.55,769.80 1123.00,769.80 1123.44,769.80 1123.89,769.80 1124.33,769.80 1124.78,769.80 1125.22,769.80 1125.67,769.80 1126.11,769.80 1126.55,769.80 1127.00,769.80 1127.44,769.80 1127.89,769.80 1128.33,769.80 1128.78,769.80 1129.22,769.80 1129.67,769.80 1130.11,769.80 1130.55,769.80 1131.00,769.80 1131.44,769.80 1131.89,769.80 1132.33,769.80 1132.78,769.80 1133.22,769.80 1133.66,769.80 1134.11,769.80 1134.55,769.80 1135.00,769.80 1135.44,769.80 1135.89,769.80 1136.33,769.80 1136.78,769.80 1137.22,769.80 1137.66,769.80 1138.11,769.80 1138.55,769.80 1139.00,769.80 1139.44,769.80 1139.89,769.80 1140.33,769.80 1140.78,769.80 1141.22,769.80 1141.66,769.80 1142.11,769.80 1142.55,769.80 1143.00,769.80 1143.44,769.80 1143.89,769.80 1144.33,769.80 1144.78,769.80 1145.22,769.80 1145.66,769.80 1146.11,769.80 1146.55,769.80 1147.00,769.80 1147.44,769.80 1147.89,769.80 1148.33,769.80 1148.78,769.80 1149.22,769.80 1149.66,769.80 1150.11,769.80 1150.55,769.80 1151.00,769.80 1151.44,769.80 1151.89,769.80 1152.33,769.80 1152.78,769.80 1153.22,769.80 1153.66,769.80 1154.11,769.80 1154.55,769.80 1155.00,769.80 1155.44,769.80 1155.89,769.80 1156.33,769.80 1156.78,769.80 1157.22,769.80 1157.66,769.80 1158.11,769.80 1158.55,769.80 1159.00,769.72 1159.44,769.63 1159.89,769.54 1160.33,769.43 1160.78,769.32 1161.22,769.20 1161.66,769.07 1162.11,768.93 1162.55,768.79 1163.00,768.63 1163.44,768.47 1163.89,768.29 1164.33,768.10 1164.78,767.90 1165.22,767.69 1165.66,767.47 1166.11,767.24 1166.55,766.99 1167.00,766.73 1167.44,766.46 1167.89,766.17 1168.33,765.87 1168.77,765.55 1169.22,765.21 1169.66,764.86 1170.11,764.50 1170.55,764.12 1171.00,763.72 1171.44,763.30 1171.89,762.86 1172.33,762.41 1172.77,761.93 1173.22,761.44 1173.66,760.92 1174.11,760.39 1174.55,759.83 1175.00,759.25 1175.44,758.65 1175.89,758.03 1176.33,757.38 1176.77,756.71 1177.22,756.02 1177.66,755.30 1178.11,754.56 1178.55,753.79 1179.00,752.99 1179.44,752.17 1179.89,751.33 1180.33,750.45 1180.77,749.55 1181.22,748.63 1181.66,747.67 1182.11,746.69 1182.55,745.67 1183.00,744.63 1183.44,743.56 1183.89,742.46 1184.33,741.33 1184.77,740.17 1185.22,738.98 1185.66,737.76 1186.11,736.51 1186.55,735.23 1187.00,733.92 1187.44,732.58 1187.89,731.20 1188.33,729.80 1188.77,728.36 1189.22,726.90 1189.66,725.40 1190.11,723.87 1190.55,722.31 1191.00,720.72 1191.44,719.10 1191.89,717.44 1192.33,715.76 1192.77,714.05 1193.22,712.30 1193.66,710.53 1194.11,708.72 1194.55,706.89 1195.00,705.03 1195.44,703.14 1195.88,701.22 1196.33,699.27 1196.77,697.30 1197.22,695.29 1197.66,693.27 1198.11,691.21 1198.55,689.13 1199.00,687.03 1199.44,684.90 1199.88,682.74 1200.33,680.57 1200.77,678.37 1201.22,676.15 1201.66,673.91 1202.11,671.64 1202.55,669.36 1203.00,667.06 1203.44,664.75 1203.88,662.41 1204.33,660.06 1204.77,657.70 1205.22,655.32 1205.66,652.92 1206.11,650.52 1206.55,648.10 1207.00,645.68 1207.44,643.24 1207.88,640.80 1208.33,638.35 1208.77,635.89 1209.22,633.43 1209.66,630.96 1210.11,628.49 1210.55,626.02 1211.00,623.55 1211.44,621.09 1211.88,618.62 1212.33,616.15 1212.77,613.70 1213.22,611.24 1213.66,608.79 1214.11,606.36 1214.55,603.93 1215.00,601.51 1215.44,599.10 1215.88,596.71 1216.33,594.33 1216.77,591.96 1217.22,589.61 1217.66,587.28 1218.11,584.97 1218.55,582.68 1219.00,580.42 1219.44,578.17 1219.88,575.95 1220.33,573.75 1220.77,571.58 1221.22,569.44 1221.66,567.33 1222.11,565.25 1222.55,563.20 1223.00,561.18 1223.44,559.19 1223.88,557.24 1224.33,555.32 1224.77,553.44 1225.22,551.60 1225.66,549.80 1226.11,548.04 1226.55,546.32 1226.99,544.64 1227.44,543.00 1227.88,541.41 1228.33,539.86 1228.77,538.36 1229.22,536.90 1229.66,535.49 1230.11,534.13 1230.55,532.82 1230.99,531.56 1231.44,530.35 1231.88,529.18 1232.33,528.08 1232.77,527.02 1233.22,526.01 1233.66,525.06 1234.11,524.17 1234.55,523.33 1234.99,522.54 1235.44,521.81 1235.88,521.13 1236.33,520.52 1236.77,519.96 1237.22,519.45 1237.66,519.00 1238.11,518.61 1238.55,518.28 1238.99,518.01 1239.44,517.80 1239.88,517.64 1240.33,517.54 1240.77,517.50 1241.22,517.52 1241.66,517.60 1242.11,517.73 1242.55,517.93 1242.99,518.18 1243.44,518.49 1243.88,518.86 1244.33,519.29 1244.77,519.77 1245.22,520.31 1245.66,520.91 1246.11,521.57 1246.55,522.28 1246.99,523.05 1247.44,523.87 1247.88,524.74 1248.33,525.68 1248.77,526.66 1249.22,527.70 1249.66,528.79 1250.11,529.93 1250.55,531.13 1250.99,532.37 1251.44,533.67 1251.88,535.01 1252.33,536.40 1252.77,537.84 1253.22,539.33 1253.66,540.86 1254.11,542.44 1254.55,544.06 1254.99,545.73 1255.44,547.43 1255.88,549.18 1256.33,550.97 1256.77,552.80 1257.22,554.66 1257.66,556.56 1258.11,558.50 1258.55,560.48 1258.99,562.49 1259.44,564.53 1259.88,566.60 1260.33,568.70 1260.77,570.83 1261.22,572.99 1261.66,575.18 1262.10,577.39 1262.55,579.63 1262.99,581.89 1263.44,584.17 1263.88,586.47 1264.33,588.80 1264.77,591.14 1265.22,593.50 1265.66,595.87 1266.10,598.26 1266.55,600.66 1266.99,603.08 1267.44,605.50 1267.88,607.94 1268.33,610.38 1268.77,612.84 1269.22,615.29 1269.66,617.76 1270.10,620.22 1270.55,622.69 1270.99,625.16 1271.44,627.63 1271.88,630.10 1272.33,632.57 1272.77,635.03 1273.22,637.49 1273.66,639.94 1274.10,642.39 1274.55,644.83 1274.99,647.26 1275.44,649.68 1275.88,652.08 1276.33,654.48 1276.77,656.87 1277.22,659.24 1277.66,661.59 1278.10,663.93 1278.55,666.25 1278.99,668.56 1279.44,670.85 1279.88,673.12 1280.33,675.37 1280.77,677.59 1281.22,679.80 1281.66,681.98 1282.10,684.15 1282.55,686.28 1282.99,688.40 1283.44,690.49 1283.88,692.55 1284.33,694.59 1284.77,696.60 1285.22,698.58 1285.66,700.54 1286.10,702.47 1286.55,704.37 1286.99,706.24 1287.44,708.09 1287.88,709.90 1288.33,711.68 1288.77,713.44 1289.21,715.16 1289.66,716.86 1290.10,718.52 1290.55,720.15 1290.99,721.76 1291.44,723.33 1291.88,724.87 1292.33,726.38 1292.77,727.85 1293.21,729.30 1293.66,730.72 1294.10,732.10 1294.55,733.45 1294.99,734.78 1295.44,736.07 1295.88,737.33 1296.33,738.56 1296.77,739.76 1297.21,740.93 1297.66,742.07 1298.10,743.18 1298.55,744.26 1298.99,745.31 1299.44,746.34 1299.88,747.33 1300.33,748.30 1300.77,749.23 1301.21,750.14 1301.66,751.03 1302.10,751.88 1302.55,752.71 1302.99,753.51 1303.44,754.29 1303.88,755.04 1304.33,755.77 1304.77,756.47 1305.21,757.15 1305.66,757.80 1306.10,758.43 1306.55,759.04 1306.99,759.63 1307.44,760.19 1307.88,760.74 1308.33,761.26 1308.77,761.76 1309.21,762.24 1309.66,762.70 1310.10,763.15 1310.55,763.57 1310.99,763.98 1311.44,764.37 1311.88,764.74 1312.33,765.09 1312.77,765.43 1313.21,765.76 1313.66,766.06 1314.10,766.36 1314.55,766.64 1314.99,766.90 1315.44,767.15 1315.88,767.39 1316.33,767.62 1316.77,767.83 1317.21,768.03 1317.66,768.22 1318.10,768.41 1318.55,768.57 1318.99,768.73 1319.44,768.88 1319.88,769.02 1320.32,769.16 1320.77,769.28 1321.21,769.39 1321.66,769.50 1322.10,769.60 1322.55,769.69 1322.99,769.78 1323.44,769.80 1323.88,769.80 1324.32,769.80 1324.77,769.80 1325.21,769.80 1325.66,769.80 1326.10,769.80 1326.55,769.80 1326.99,769.80 1327.44,769.80 1327.88,769.80 1328.32,769.80 1328.77,769.80 1329.21,769.80 1329.66,769.80 1330.10,769.80 1330.55,769.80 1330.99,769.80 1331.44,769.80 1331.88,769.80 1332.32,769.80 1332.77,769.80 1333.21,769.80 1333.66,769.80 1334.10,769.80 1334.55,769.80 1334.99,769.80 1335.44,769.80 1335.88,769.80 1336.32,769.80 1336.77,769.80 1337.21,769.80 1337.66,769.80 1338.10,769.80 1338.55,769.80 1338.99,769.80 1339.44,769.80 1339.88,769.80 1340.32,769.80 1340.77,769.80 1341.21,769.80 1341.66,769.80 1342.10,769.80 1342.55,769.80 1342.99,769.80 1343.44,769.80 1343.88,769.80 1344.32,769.80 1344.77,769.80 1345.21,769.80 1345.66,769.80 1346.10,769.80 1346.55,769.80 1346.99,769.80 1347.44,769.80 1347.88,769.80 1348.32,769.80 1348.77,769.80 1349.21,769.80 1349.66,769.80 1350.10,769.80 1350.55,769.80 1350.99,769.80 1351.43,769.80 1351.88,769.80 1352.32,769.80 1352.77,769.80 1353.21,769.80 1353.66,769.80 1354.10,769.80 1354.55,769.80 1354.99,769.80 1355.43,769.80 1355.88,769.80 1356.32,769.80 1356.77,769.80 1357.21,769.80 1357.66,769.80 1358.10,769.80 1358.55,769.80 1358.99,769.80 1359.43,769.80 1359.88,769.80 1360.32,769.80 1360.77,769.80 1361.21,769.80 1361.66,769.80 1362.10,769.80 1362.55,769.80 1362.99,769.80 1363.43,769.80 1363.88,769.80 1364.32,769.80 1364.77,769.80 1365.21,769.80 1365.66,769.80 1366.10,769.80 1366.55,769.80 1366.99,769.80 1367.43,769.80 1367.88,769.80 1368.32,769.80 1368.77,769.80 1369.21,769.80 1369.66,769.80 1370.10,769.80 1370.55,769.80 1370.99,769.80 1371.43,769.80 1371.88,769.80 1372.32,769.80 1372.77,769.80 1373.21,769.80 1373.66,769.80 1374.10,769.80 1374.55,769.80 1374.99,769.80 1375.43,769.80 1375.88,769.80 1376.32,769.80 1376.77,769.80 1377.21,769.80 1377.66,769.80 1378.10,769.80 1378.55,769.80 1378.99,769.80 1379.43,769.80 1379.88,769.80 1380.32,769.80 1380.77,769.80 1381.21,769.80 1381.66,769.80 1382.10,769.80 1382.54,769.80 1382.99,769.80 1383.43,769.80 1383.88,769.80 1384.32,769.80 1384.77,769.80 1385.21,769.80 1385.66,769.80 1386.10,769.80 1386.54,769.80 1386.99,769.80 1387.43,769.80 1387.88,769.80 1388.32,769.80 1388.77,769.80 1389.21,769.80 1389.66,769.80 1390.10,769.80 1390.54,769.80 1390.99,769.80 1391.43,769.80 1391.88,769.80 1392.32,769.80 1392.77,769.80 1393.21,769.80 1393.66,769.80 1394.10,769.80 1394.54,769.80 1394.99,769.80 1395.43,769.80 1395.88,769.80 1396.32,769.80 1396.77,769.80 1397.21,769.80 1397.66,769.80 1398.10,769.80" fill="none" stroke="#D95319" stroke-width="2.1" stroke-linejoin="round"/>
</g>
<path d="M1144.90 949.50V1200.70M1242.20 949.50V1200.70M1340.30 949.50V1200.70M1086.00 1038.00H1398.00M1086.00 1125.40H1398.00" stroke="#dedede" stroke-width="1.5" fill="none"/>
<path d="M1144.90 1199.70v-4.0M1144.90 950.50v4.0M1242.20 1199.70v-4.0M1242.20 950.50v4.0M1340.30 1199.70v-4.0M1340.30 950.50v4.0M1087.00 1038.00h4.0M1397.00 1038.00h-4.0M1087.00 1125.40h4.0M1397.00 1125.40h-4.0" stroke="#262626" stroke-width="1.4" fill="none"/>
<text x="1132.44" y="1228.80" font-size="28.0" textLength="24.98" lengthAdjust="spacingAndGlyphs" fill="#262626">-5</text>
<text x="1235.20" y="1228.80" font-size="28.0" textLength="14.00" lengthAdjust="spacingAndGlyphs" fill="#262626">0</text>
<text x="1333.03" y="1228.80" font-size="28.0" textLength="14.00" lengthAdjust="spacingAndGlyphs" fill="#262626">5</text>
<text x="1068.17" y="955.60" font-size="28.0" textLength="14.00" lengthAdjust="spacingAndGlyphs" fill="#262626">0</text>
<text x="1022.34" y="1045.00" font-size="28.0" textLength="59.88" lengthAdjust="spacingAndGlyphs" fill="#262626">-0.05</text>
<text x="1036.92" y="1132.40" font-size="28.0" textLength="45.92" lengthAdjust="spacingAndGlyphs" fill="#262626">-0.1</text>
<rect x="1086.95" y="950.45" width="310.10" height="249.30" fill="none" stroke="#262626" stroke-width="1.9"/>
<g clip-path="url(#cli)">
<polyline points="1087.00,950.40 1087.44,950.40 1087.89,950.40 1088.33,950.40 1088.77,950.40 1089.21,950.40 1089.66,950.40 1090.10,950.40 1090.54,950.40 1090.99,950.40 1091.43,950.40 1091.87,950.40 1092.31,950.40 1092.76,950.40 1093.20,950.40 1093.64,950.40 1094.09,950.40 1094.53,950.40 1094.97,950.40 1095.41,950.40 1095.86,950.40 1096.30,950.40 1096.74,950.40 1097.19,950.40 1097.63,950.40 1098.07,950.40 1098.51,950.40 1098.96,950.40 1099.40,950.40 1099.84,950.40 1100.29,950.40 1100.73,950.40 1101.17,950.40 1101.61,950.40 1102.06,950.40 1102.50,950.40 1102.94,950.40 1103.39,950.40 1103.83,950.40 1104.27,950.40 1104.71,950.40 1105.16,950.40 1105.60,950.40 1106.04,950.40 1106.49,950.40 1106.93,950.40 1107.37,950.40 1107.81,950.40 1108.26,950.40 1108.70,950.40 1109.14,950.40 1109.59,950.40 1110.03,950.40 1110.47,950.40 1110.91,950.40 1111.36,950.40 1111.80,950.40 1112.24,950.40 1112.69,950.40 1113.13,950.40 1113.57,950.40 1114.01,950.40 1114.46,950.40 1114.90,950.40 1115.34,950.40 1115.79,950.40 1116.23,950.40 1116.67,950.40 1117.11,950.40 1117.56,950.40 1118.00,950.40 1118.44,950.40 1118.89,950.40 1119.33,950.40 1119.77,950.40 1120.21,950.40 1120.66,950.40 1121.10,950.40 1121.54,950.40 1121.99,950.40 1122.43,950.40 1122.87,950.40 1123.31,950.40 1123.76,950.40 1124.20,950.40 1124.64,950.40 1125.09,950.40 1125.53,950.42 1125.97,950.43 1126.41,950.45 1126.86,950.48 1127.30,950.50 1127.74,950.53 1128.19,950.56 1128.63,950.59 1129.07,950.62 1129.51,950.66 1129.96,950.70 1130.40,950.75 1130.84,950.80 1131.29,950.86 1131.73,950.91 1132.17,950.98 1132.61,951.05 1133.06,951.12 1133.50,951.20 1133.94,951.29 1134.39,951.38 1134.83,951.48 1135.27,951.59 1135.71,951.70 1136.16,951.82 1136.60,951.95 1137.04,952.09 1137.49,952.24 1137.93,952.40 1138.37,952.57 1138.81,952.75 1139.26,952.94 1139.70,953.14 1140.14,953.36 1140.59,953.58 1141.03,953.82 1141.47,954.08 1141.91,954.35 1142.36,954.63 1142.80,954.93 1143.24,955.25 1143.69,955.58 1144.13,955.94 1144.57,956.31 1145.01,956.70 1145.46,957.11 1145.90,957.54 1146.34,957.99 1146.79,958.46 1147.23,958.96 1147.67,959.48 1148.11,960.02 1148.56,960.59 1149.00,961.19 1149.44,961.81 1149.89,962.46 1150.33,963.14 1150.77,963.85 1151.21,964.59 1151.66,965.36 1152.10,966.16 1152.54,966.99 1152.99,967.86 1153.43,968.76 1153.87,969.69 1154.31,970.66 1154.76,971.67 1155.20,972.72 1155.64,973.80 1156.09,974.92 1156.53,976.08 1156.97,977.28 1157.41,978.53 1157.86,979.81 1158.30,981.14 1158.74,982.51 1159.19,983.92 1159.63,985.37 1160.07,986.88 1160.51,988.42 1160.96,990.01 1161.40,991.65 1161.84,993.33 1162.29,995.07 1162.73,996.84 1163.17,998.67 1163.61,1000.54 1164.06,1002.46 1164.50,1004.43 1164.94,1006.44 1165.39,1008.50 1165.83,1010.61 1166.27,1012.77 1166.71,1014.98 1167.16,1017.23 1167.60,1019.53 1168.04,1021.87 1168.49,1024.26 1168.93,1026.70 1169.37,1029.18 1169.81,1031.71 1170.26,1034.28 1170.70,1036.89 1171.14,1039.54 1171.59,1042.23 1172.03,1044.97 1172.47,1047.74 1172.91,1050.55 1173.36,1053.39 1173.80,1056.27 1174.24,1059.19 1174.69,1062.13 1175.13,1065.10 1175.57,1068.11 1176.01,1071.13 1176.46,1074.19 1176.90,1077.26 1177.34,1080.36 1177.79,1083.47 1178.23,1086.60 1178.67,1089.75 1179.11,1092.90 1179.56,1096.07 1180.00,1099.24 1180.44,1102.41 1180.89,1105.59 1181.33,1108.77 1181.77,1111.94 1182.21,1115.10 1182.66,1118.25 1183.10,1121.40 1183.54,1124.52 1183.99,1127.63 1184.43,1130.71 1184.87,1133.77 1185.31,1136.80 1185.76,1139.80 1186.20,1142.77 1186.64,1145.69 1187.09,1148.58 1187.53,1151.42 1187.97,1154.21 1188.41,1156.95 1188.86,1159.64 1189.30,1162.27 1189.74,1164.83 1190.19,1167.34 1190.63,1169.77 1191.07,1172.13 1191.51,1174.42 1191.96,1176.63 1192.40,1178.76 1192.84,1180.81 1193.29,1182.77 1193.73,1184.64 1194.17,1186.41 1194.61,1188.09 1195.06,1189.67 1195.50,1191.15 1195.94,1192.53 1196.39,1193.80 1196.83,1194.96 1197.27,1196.01 1197.71,1196.94 1198.16,1197.76 1198.60,1198.46 1199.04,1199.04 1199.49,1199.50 1199.93,1199.84 1200.37,1200.05 1200.81,1200.13 1201.26,1200.09 1201.70,1199.92 1202.14,1199.62 1202.59,1199.19 1203.03,1198.63 1203.47,1197.93 1203.91,1197.11 1204.36,1196.15 1204.80,1195.06 1205.24,1193.84 1205.69,1192.49 1206.13,1191.01 1206.57,1189.40 1207.01,1187.66 1207.46,1185.79 1207.90,1183.79 1208.34,1181.67 1208.79,1179.43 1209.23,1177.06 1209.67,1174.58 1210.11,1171.98 1210.56,1169.26 1211.00,1166.43 1211.44,1163.49 1211.89,1160.44 1212.33,1157.29 1212.77,1154.04 1213.21,1150.69 1213.66,1147.24 1214.10,1143.71 1214.54,1140.09 1214.99,1136.38 1215.43,1132.60 1215.87,1128.75 1216.31,1124.82 1216.76,1120.83 1217.20,1116.78 1217.64,1112.67 1218.09,1108.52 1218.53,1104.31 1218.97,1100.07 1219.41,1095.79 1219.86,1091.48 1220.30,1087.14 1220.74,1082.78 1221.19,1078.41 1221.63,1074.03 1222.07,1069.65 1222.51,1065.27 1222.96,1060.89 1223.40,1056.53 1223.84,1052.19 1224.29,1047.87 1224.73,1043.59 1225.17,1039.33 1225.61,1035.12 1226.06,1030.96 1226.50,1026.84 1226.94,1022.79 1227.39,1018.80 1227.83,1014.87 1228.27,1011.02 1228.71,1007.25 1229.16,1003.56 1229.60,999.96 1230.04,996.46 1230.49,993.05 1230.93,989.75 1231.37,986.55 1231.81,983.46 1232.26,980.49 1232.70,977.64 1233.14,974.92 1233.59,972.32 1234.03,969.85 1234.47,967.52 1234.91,965.33 1235.36,963.27 1235.80,961.36 1236.24,959.60 1236.69,957.98 1237.13,956.52 1237.57,955.21 1238.01,954.05 1238.46,953.05 1238.90,952.21 1239.34,951.53 1239.79,951.01 1240.23,950.65 1240.67,950.44 1241.11,950.41 1241.56,950.53 1242.00,950.81 1242.44,951.26 1242.89,951.86 1243.33,952.63 1243.77,953.55 1244.21,954.63 1244.66,955.87 1245.10,957.26 1245.54,958.80 1245.99,960.49 1246.43,962.33 1246.87,964.31 1247.31,966.44 1247.76,968.71 1248.20,971.11 1248.64,973.64 1249.09,976.31 1249.53,979.10 1249.97,982.01 1250.41,985.04 1250.86,988.19 1251.30,991.44 1251.74,994.80 1252.19,998.26 1252.63,1001.81 1253.07,1005.46 1253.51,1009.19 1253.96,1013.00 1254.40,1016.89 1254.84,1020.85 1255.29,1024.88 1255.73,1028.96 1256.17,1033.10 1256.61,1037.29 1257.06,1041.52 1257.50,1045.79 1257.94,1050.10 1258.39,1054.43 1258.83,1058.78 1259.27,1063.15 1259.71,1067.53 1260.16,1071.91 1260.60,1076.29 1261.04,1080.67 1261.49,1085.03 1261.93,1089.38 1262.37,1093.71 1262.81,1098.00 1263.26,1102.26 1263.70,1106.49 1264.14,1110.67 1264.59,1114.80 1265.03,1118.88 1265.47,1122.90 1265.91,1126.86 1266.36,1130.75 1266.80,1134.56 1267.24,1138.31 1267.69,1141.97 1268.13,1145.54 1268.57,1149.03 1269.01,1152.43 1269.46,1155.73 1269.90,1158.93 1270.34,1162.03 1270.79,1165.02 1271.23,1167.90 1271.67,1170.67 1272.11,1173.33 1272.56,1175.88 1273.00,1178.30 1273.44,1180.60 1273.89,1182.78 1274.33,1184.84 1274.77,1186.77 1275.21,1188.57 1275.66,1190.24 1276.10,1191.79 1276.54,1193.20 1276.99,1194.49 1277.43,1195.64 1277.87,1196.66 1278.31,1197.55 1278.76,1198.31 1279.20,1198.93 1279.64,1199.43 1280.09,1199.79 1280.53,1200.02 1280.97,1200.13 1281.41,1200.11 1281.86,1199.96 1282.30,1199.68 1282.74,1199.28 1283.19,1198.76 1283.63,1198.11 1284.07,1197.35 1284.51,1196.47 1284.96,1195.48 1285.40,1194.37 1285.84,1193.16 1286.29,1191.83 1286.73,1190.40 1287.17,1188.87 1287.61,1187.24 1288.06,1185.51 1288.50,1183.68 1288.94,1181.77 1289.39,1179.76 1289.83,1177.67 1290.27,1175.50 1290.71,1173.25 1291.16,1170.92 1291.60,1168.52 1292.04,1166.05 1292.49,1163.52 1292.93,1160.92 1293.37,1158.26 1293.81,1155.54 1294.26,1152.78 1294.70,1149.96 1295.14,1147.09 1295.59,1144.19 1296.03,1141.24 1296.47,1138.26 1296.91,1135.24 1297.36,1132.20 1297.80,1129.12 1298.24,1126.03 1298.69,1122.91 1299.13,1119.78 1299.57,1116.63 1300.01,1113.47 1300.46,1110.30 1300.90,1107.13 1301.34,1103.95 1301.79,1100.77 1302.23,1097.60 1302.67,1094.43 1303.11,1091.27 1303.56,1088.12 1304.00,1084.99 1304.44,1081.86 1304.89,1078.76 1305.33,1075.67 1305.77,1072.61 1306.21,1069.57 1306.66,1066.55 1307.10,1063.56 1307.54,1060.61 1307.99,1057.68 1308.43,1054.78 1308.87,1051.92 1309.31,1049.09 1309.76,1046.30 1310.20,1043.55 1310.64,1040.84 1311.09,1038.17 1311.53,1035.53 1311.97,1032.95 1312.41,1030.40 1312.86,1027.90 1313.30,1025.44 1313.74,1023.02 1314.19,1020.66 1314.63,1018.34 1315.07,1016.06 1315.51,1013.83 1315.96,1011.65 1316.40,1009.52 1316.84,1007.43 1317.29,1005.39 1317.73,1003.40 1318.17,1001.46 1318.61,999.57 1319.06,997.72 1319.50,995.92 1319.94,994.17 1320.39,992.46 1320.83,990.80 1321.27,989.19 1321.71,987.62 1322.16,986.10 1322.60,984.62 1323.04,983.18 1323.49,981.79 1323.93,980.45 1324.37,979.14 1324.81,977.88 1325.26,976.66 1325.70,975.48 1326.14,974.34 1326.59,973.24 1327.03,972.17 1327.47,971.15 1327.91,970.16 1328.36,969.20 1328.80,968.29 1329.24,967.40 1329.69,966.56 1330.13,965.74 1330.57,964.95 1331.01,964.20 1331.46,963.48 1331.90,962.79 1332.34,962.12 1332.79,961.49 1333.23,960.88 1333.67,960.29 1334.11,959.74 1334.56,959.21 1335.00,958.70 1335.44,958.21 1335.89,957.75 1336.33,957.31 1336.77,956.89 1337.21,956.49 1337.66,956.11 1338.10,955.75 1338.54,955.41 1338.99,955.08 1339.43,954.78 1339.87,954.48 1340.31,954.21 1340.76,953.95 1341.20,953.70 1341.64,953.46 1342.09,953.24 1342.53,953.04 1342.97,952.84 1343.41,952.65 1343.86,952.48 1344.30,952.32 1344.74,952.16 1345.19,952.02 1345.63,951.89 1346.07,951.76 1346.51,951.64 1346.96,951.53 1347.40,951.43 1347.84,951.33 1348.29,951.24 1348.73,951.16 1349.17,951.08 1349.61,951.01 1350.06,950.95 1350.50,950.88 1350.94,950.83 1351.39,950.77 1351.83,950.73 1352.27,950.68 1352.71,950.64 1353.16,950.60 1353.60,950.57 1354.04,950.54 1354.49,950.51 1354.93,950.49 1355.37,950.46 1355.81,950.44 1356.26,950.42 1356.70,950.41 1357.14,950.40 1357.59,950.40 1358.03,950.40 1358.47,950.40 1358.91,950.40 1359.36,950.40 1359.80,950.40 1360.24,950.40 1360.69,950.40 1361.13,950.40 1361.57,950.40 1362.01,950.40 1362.46,950.40 1362.90,950.40 1363.34,950.40 1363.79,950.40 1364.23,950.40 1364.67,950.40 1365.11,950.40 1365.56,950.40 1366.00,950.40 1366.44,950.40 1366.89,950.40 1367.33,950.40 1367.77,950.40 1368.21,950.40 1368.66,950.40 1369.10,950.40 1369.54,950.40 1369.99,950.40 1370.43,950.40 1370.87,950.40 1371.31,950.40 1371.76,950.40 1372.20,950.40 1372.64,950.40 1373.09,950.40 1373.53,950.40 1373.97,950.40 1374.41,950.40 1374.86,950.40 1375.30,950.40 1375.74,950.40 1376.19,950.40 1376.63,950.40 1377.07,950.40 1377.51,950.40 1377.96,950.40 1378.40,950.40 1378.84,950.40 1379.29,950.40 1379.73,950.40 1380.17,950.40 1380.61,950.40 1381.06,950.40 1381.50,950.40 1381.94,950.40 1382.39,950.40 1382.83,950.40 1383.27,950.40 1383.71,950.40 1384.16,950.40 1384.60,950.40 1385.04,950.40 1385.49,950.40 1385.93,950.40 1386.37,950.40 1386.81,950.40 1387.26,950.40 1387.70,950.40 1388.14,950.40 1388.59,950.40 1389.03,950.40 1389.47,950.40 1389.91,950.40 1390.36,950.40 1390.80,950.40 1391.24,950.40 1391.69,950.40 1392.13,950.40 1392.57,950.40 1393.01,950.40 1393.46,950.40 1393.90,950.40 1394.34,950.40 1394.79,950.40 1395.23,950.40 1395.67,950.40 1396.11,950.40 1396.56,950.40 1397.00,950.40" fill="none" stroke="#D95319" stroke-width="2.1" stroke-linejoin="round"/>
</g>
<rect x="230.10" y="285.70" width="57.80" height="53.70" fill="#fff" stroke="#000" stroke-width="2.0"/>
<text x="238.38" y="321.92" font-size="37.48621830209482" textLength="40.94" lengthAdjust="spacingAndGlyphs" fill="#000">(a)</text>
<rect x="601.90" y="285.80" width="59.00" height="53.90" fill="#fff" stroke="#000" stroke-width="2.0"/>
<text x="609.28" y="321.86" font-size="37.265711135611916" textLength="43.04" lengthAdjust="spacingAndGlyphs" fill="#000">(b)</text>
<rect x="1094.10" y="97.90" width="55.80" height="54.50" fill="#fff" stroke="#000" stroke-width="2.0"/>
<text x="1102.79" y="134.02" font-size="37.48621830209482" textLength="38.12" lengthAdjust="spacingAndGlyphs" fill="#000">(c)</text>
<rect x="233.70" y="712.90" width="59.30" height="54.30" fill="#fff" stroke="#000" stroke-width="2.0"/>
<text x="241.80" y="748.94" font-size="37.37596471885334" textLength="42.50" lengthAdjust="spacingAndGlyphs" fill="#000">(d)</text>
<rect x="605.60" y="710.40" width="55.20" height="54.60" fill="#fff" stroke="#000" stroke-width="2.0"/>
<text x="613.46" y="746.72" font-size="37.48621830209482" textLength="38.88" lengthAdjust="spacingAndGlyphs" fill="#000">(e)</text>
<rect x="1094.20" y="527.70" width="53.00" height="54.60" fill="#fff" stroke="#000" stroke-width="2.0"/>
<text x="1102.29" y="563.94" font-size="37.81697905181913" textLength="36.51" lengthAdjust="spacingAndGlyphs" fill="#000">(f)</text>
<rect x="233.10" y="1137.60" width="57.00" height="54.60" fill="#fff" stroke="#000" stroke-width="2.0"/>
<text x="241.18" y="1174.17" font-size="37.70672546857778" textLength="40.45" lengthAdjust="spacingAndGlyphs" fill="#000">(g)</text>
<rect x="604.10" y="1137.60" width="59.00" height="54.30" fill="#fff" stroke="#000" stroke-width="2.0"/>
<text x="612.51" y="1173.71" font-size="37.0452039691289" textLength="42.18" lengthAdjust="spacingAndGlyphs" fill="#000">(h)</text>
<rect x="1092.00" y="1135.10" width="49.90" height="54.60" fill="#fff" stroke="#000" stroke-width="2.0"/>
<text x="1100.46" y="1171.04" font-size="37.37596471885346" textLength="32.97" lengthAdjust="spacingAndGlyphs" fill="#000">(i)</text>
<rect x="302.00" y="6.90" width="98.90" height="71.50" fill="#fff" stroke="#000" stroke-width="1.8"/>
<text x="309.09" y="54.40" font-size="50.5" textLength="34.14" lengthAdjust="spacingAndGlyphs" fill="#000">T</text>
<text x="344.31" y="54.40" font-size="47.5" textLength="49.98" lengthAdjust="spacingAndGlyphs" fill="#000">hy</text>
<rect x="677.50" y="6.90" width="93.50" height="71.50" fill="#fff" stroke="#000" stroke-width="1.8"/>
<text x="683.63" y="54.40" font-size="51" textLength="27.21" lengthAdjust="spacingAndGlyphs" fill="#000">S</text>
<text x="711.53" y="54.40" font-size="47.5" textLength="53.66" lengthAdjust="spacingAndGlyphs" fill="#000">im</text>
<rect x="72.05" y="177.05" width="75.80" height="70.70" fill="#fff" stroke="#000" stroke-width="1.9"/>
<path d="M94.6 188.0L84.8 211.9L94.6 235.8M125.2 188.0L135.0 211.9L125.2 235.8" stroke="#000" stroke-width="2.0" fill="none" stroke-linecap="round" stroke-linejoin="miter"/>
<text x="99.14" y="223.90" font-size="50.5" textLength="20.28" lengthAdjust="spacingAndGlyphs" font-style="italic" fill="#000">I</text>
<rect x="4.35" y="606.85" width="145.30" height="70.60" fill="#fff" stroke="#000" stroke-width="1.9"/>
<text x="10.49" y="653.50" font-size="50" textLength="58.23" lengthAdjust="spacingAndGlyphs" fill="#000">Re</text>
<text x="77.95" y="654.30" font-size="54.2" textLength="15.56" lengthAdjust="spacingAndGlyphs" fill="#000">(</text>
<text x="94.29" y="653.50" font-size="50" textLength="30.30" lengthAdjust="spacingAndGlyphs" fill="#000">Γ</text>
<text x="125.39" y="654.30" font-size="54.2" textLength="15.56" lengthAdjust="spacingAndGlyphs" fill="#000">)</text>
<rect x="3.85" y="1036.45" width="145.80" height="71.00" fill="#fff" stroke="#000" stroke-width="1.9"/>
<text x="9.27" y="1083.50" font-size="50" textLength="59.26" lengthAdjust="spacingAndGlyphs" fill="#000">Im</text>
<text x="77.95" y="1084.30" font-size="54.2" textLength="15.56" lengthAdjust="spacingAndGlyphs" fill="#000">(</text>
<text x="94.29" y="1083.50" font-size="50" textLength="30.30" lengthAdjust="spacingAndGlyphs" fill="#000">Γ</text>
<text x="125.39" y="1084.30" font-size="54.2" textLength="15.56" lengthAdjust="spacingAndGlyphs" fill="#000">)</text>
<rect x="1156.60" y="3.50" width="177.10" height="73.90" fill="#fff" stroke="#262626" stroke-width="1.8"/>
<path d="M1167.9 24.3H1270.7" stroke="#0072BD" stroke-width="2.3"/>
<path d="M1167.9 56.9H1270.7" stroke="#D95319" stroke-width="2.3"/>
<text x="1278.61" y="30.60" font-size="26.5" textLength="44.00" lengthAdjust="spacingAndGlyphs" fill="#000">Thy</text>
<text x="1277.83" y="62.80" font-size="26.5" textLength="42.58" lengthAdjust="spacingAndGlyphs" fill="#000">Sim</text>
<g transform="translate(1032.50,264.40) rotate(-90)">
<path d="M7 -23.5L0 -8.2L7 7.1M93.8 -23.5L100.6 -8.2L93.8 7.1" stroke="#262626" stroke-width="1.3" fill="none"/>
<text x="9.55" y="0.00" font-size="32" textLength="12.58" lengthAdjust="spacingAndGlyphs" font-style="italic" fill="#262626">I</text>
<text x="30.70" y="2.50" font-size="33.8" textLength="9.85" lengthAdjust="spacingAndGlyphs" fill="#262626">(</text>
<text x="40.75" y="0.00" font-size="32" textLength="15.10" lengthAdjust="spacingAndGlyphs" fill="#262626">0</text>
<text x="57.53" y="0.00" font-size="32" textLength="5.71" lengthAdjust="spacingAndGlyphs" fill="#262626">,</text>
<text x="68.17" y="0.00" font-size="32" textLength="10.29" lengthAdjust="spacingAndGlyphs" font-style="italic" fill="#262626">t</text>
<text x="80.66" y="2.50" font-size="33.8" textLength="9.72" lengthAdjust="spacingAndGlyphs" fill="#262626">)</text>
</g>
<g transform="translate(1032.20,826.60) rotate(-90)">
<text x="-0.94" y="0.00" font-size="32" textLength="36.17" lengthAdjust="spacingAndGlyphs" fill="#262626">Re</text>
<path d="M51.8 -26.3H45.9V11.4H51.8M354.0 -26.3H360.0V11.4H354.0" stroke="#262626" stroke-width="1.4" fill="none"/>
<text x="52.04" y="0.00" font-size="32" textLength="19.34" lengthAdjust="spacingAndGlyphs" fill="#262626">Γ</text>
<text x="79.57" y="2.50" font-size="41.5" textLength="10.11" lengthAdjust="spacingAndGlyphs" fill="#262626">(</text>
<text x="89.57" y="0.00" font-size="32" textLength="16.16" lengthAdjust="spacingAndGlyphs" fill="#262626">0</text>
<text x="107.18" y="0.00" font-size="32" textLength="5.37" lengthAdjust="spacingAndGlyphs" fill="#262626">,</text>
<text x="117.42" y="0.00" font-size="32" textLength="9.96" lengthAdjust="spacingAndGlyphs" font-style="italic" fill="#262626">t</text>
<text x="130.03" y="4.80" font-size="22.5" textLength="8.95" lengthAdjust="spacingAndGlyphs" fill="#262626">1</text>
<text x="143.20" y="0.00" font-size="32" textLength="6.55" lengthAdjust="spacingAndGlyphs" fill="#262626">,</text>
<text x="155.59" y="0.00" font-size="32" textLength="22.78" lengthAdjust="spacingAndGlyphs" fill="#262626">−</text>
<text x="177.57" y="0.00" font-size="32" textLength="10.29" lengthAdjust="spacingAndGlyphs" font-style="italic" fill="#262626">t</text>
<text x="189.25" y="4.80" font-size="22.5" textLength="9.94" lengthAdjust="spacingAndGlyphs" fill="#262626">1</text>
<path d="M207.6 -5.8L208.6 -7.3L215.3 9.6" stroke="#262626" stroke-width="2.2" fill="none" stroke-linejoin="round"/>
<path d="M215.3 9.8L232.2 -25.9H311.0" stroke="#262626" stroke-width="1.2" fill="none"/>
<text x="231.79" y="0.00" font-size="32" textLength="22.78" lengthAdjust="spacingAndGlyphs" fill="#262626">−</text>
<text x="256.11" y="0.00" font-size="32" textLength="13.74" lengthAdjust="spacingAndGlyphs" font-style="italic" fill="#262626">k</text>
<text x="272.10" y="4.80" font-size="22.5" textLength="7.28" lengthAdjust="spacingAndGlyphs" font-style="italic" fill="#262626">c</text>
<text x="282.04" y="0.00" font-size="32" textLength="14.77" lengthAdjust="spacingAndGlyphs" font-style="italic" fill="#262626">k</text>
<text x="297.14" y="4.80" font-size="22.5" textLength="9.49" lengthAdjust="spacingAndGlyphs" font-style="italic" fill="#262626">c</text>
<text x="297.83" y="-10.00" font-size="24" textLength="12.84" lengthAdjust="spacingAndGlyphs" fill="#262626">″</text>
<text x="313.06" y="0.00" font-size="32" textLength="4.87" lengthAdjust="spacingAndGlyphs" fill="#262626">,</text>
<text x="324.65" y="0.00" font-size="32" textLength="15.10" lengthAdjust="spacingAndGlyphs" fill="#262626">0</text>
<text x="339.51" y="2.50" font-size="41.5" textLength="11.28" lengthAdjust="spacingAndGlyphs" fill="#262626">)</text>
</g>
<g transform="translate(1008.70,1258.50) rotate(-90)">
<text x="-1.22" y="0.00" font-size="32" textLength="37.65" lengthAdjust="spacingAndGlyphs" fill="#262626">Im</text>
<path d="M52.8 -26.3H46.9V11.4H52.8M355.0 -26.3H361.0V11.4H355.0" stroke="#262626" stroke-width="1.4" fill="none"/>
<text x="53.04" y="0.00" font-size="32" textLength="19.34" lengthAdjust="spacingAndGlyphs" fill="#262626">Γ</text>
<text x="80.57" y="2.50" font-size="41.5" textLength="10.11" lengthAdjust="spacingAndGlyphs" fill="#262626">(</text>
<text x="90.57" y="0.00" font-size="32" textLength="16.16" lengthAdjust="spacingAndGlyphs" fill="#262626">0</text>
<text x="108.18" y="0.00" font-size="32" textLength="5.37" lengthAdjust="spacingAndGlyphs" fill="#262626">,</text>
<text x="118.42" y="0.00" font-size="32" textLength="9.96" lengthAdjust="spacingAndGlyphs" font-style="italic" fill="#262626">t</text>
<text x="131.03" y="4.80" font-size="22.5" textLength="8.95" lengthAdjust="spacingAndGlyphs" fill="#262626">1</text>
<text x="144.20" y="0.00" font-size="32" textLength="6.55" lengthAdjust="spacingAndGlyphs" fill="#262626">,</text>
<text x="156.59" y="0.00" font-size="32" textLength="22.78" lengthAdjust="spacingAndGlyphs" fill="#262626">−</text>
<text x="178.57" y="0.00" font-size="32" textLength="10.29" lengthAdjust="spacingAndGlyphs" font-style="italic" fill="#262626">t</text>
<text x="190.25" y="4.80" font-size="22.5" textLength="9.94" lengthAdjust="spacingAndGlyphs" fill="#262626">1</text>
<path d="M208.6 -5.8L209.6 -7.3L216.3 9.6" stroke="#262626" stroke-width="2.2" fill="none" stroke-linejoin="round"/>
<path d="M216.3 9.8L233.2 -25.9H312.0" stroke="#262626" stroke-width="1.2" fill="none"/>
<text x="232.79" y="0.00" font-size="32" textLength="22.78" lengthAdjust="spacingAndGlyphs" fill="#262626">−</text>
<text x="257.11" y="0.00" font-size="32" textLength="13.74" lengthAdjust="spacingAndGlyphs" font-style="italic" fill="#262626">k</text>
<text x="273.10" y="4.80" font-size="22.5" textLength="7.28" lengthAdjust="spacingAndGlyphs" font-style="italic" fill="#262626">c</text>
<text x="283.04" y="0.00" font-size="32" textLength="14.77" lengthAdjust="spacingAndGlyphs" font-style="italic" fill="#262626">k</text>
<text x="298.14" y="4.80" font-size="22.5" textLength="9.49" lengthAdjust="spacingAndGlyphs" font-style="italic" fill="#262626">c</text>
<text x="298.83" y="-10.00" font-size="24" textLength="12.84" lengthAdjust="spacingAndGlyphs" fill="#262626">″</text>
<text x="314.06" y="0.00" font-size="32" textLength="4.87" lengthAdjust="spacingAndGlyphs" fill="#262626">,</text>
<text x="325.65" y="0.00" font-size="32" textLength="15.10" lengthAdjust="spacingAndGlyphs" fill="#262626">0</text>
<text x="340.51" y="2.50" font-size="41.5" textLength="11.28" lengthAdjust="spacingAndGlyphs" fill="#262626">)</text>
</g>
</svg>
<script>
(function(){
var P=[[62,38,168],[62,39,172],[63,40,175],[63,41,178],[64,42,180],[64,43,183],[65,44,186],[65,45,189],[66,46,191],[66,47,194],[67,48,197],[67,49,200],[67,50,202],[68,51,205],[68,52,208],[69,53,210],[69,55,213],[69,56,215],[70,57,217],[70,58,220],[70,59,222],[70,61,224],[71,62,225],[71,63,227],[71,65,229],[71,66,230],[71,68,232],[71,69,233],[71,70,235],[72,72,236],[72,73,237],[72,75,238],[72,76,240],[72,78,241],[72,79,242],[72,80,243],[72,82,244],[72,83,245],[72,84,246],[71,86,247],[71,87,247],[71,89,248],[71,90,249],[71,91,250],[71,93,250],[70,94,251],[70,96,251],[70,97,252],[69,98,252],[69,100,253],[68,101,253],[67,103,253],[67,104,254],[66,106,254],[65,107,254],[64,109,254],[63,110,255],[62,112,255],[60,113,255],[59,115,255],[57,116,255],[56,118,254],[54,119,254],[53,121,253],[51,122,253],[50,124,252],[49,125,252],[48,127,251],[47,128,250],[47,130,250],[46,131,249],[46,132,248],[46,134,248],[46,135,247],[45,136,246],[45,138,245],[45,139,244],[45,140,243],[45,142,242],[44,143,241],[44,144,240],[43,145,239],[42,147,238],[41,148,237],[40,149,236],[39,151,235],[39,152,234],[38,153,233],[38,154,232],[37,155,232],[37,156,231],[36,158,230],[36,159,229],[35,160,229],[35,161,228],[34,162,228],[33,163,227],[32,165,227],[31,166,226],[30,167,225],[29,168,225],[29,169,224],[28,170,223],[27,171,222],[26,172,221],[25,173,220],[23,174,218],[22,175,217],[20,176,216],[18,177,214],[16,178,213],[14,179,212],[11,179,210],[8,180,209],[6,181,207],[4,182,206],[2,183,204],[1,183,202],[0,184,201],[0,185,199],[0,186,198],[1,186,196],[2,187,194],[4,187,193],[6,188,191],[9,189,189],[13,189,188],[16,190,186],[20,190,184],[23,191,182],[26,192,181],[29,192,179],[32,193,177],[35,193,175],[37,194,174],[39,194,172],[41,195,170],[43,195,168],[44,196,166],[46,196,165],[47,197,163],[49,197,161],[50,198,159],[51,199,157],[53,199,155],[54,200,153],[56,200,150],[57,201,148],[59,201,146],[61,202,144],[64,202,141],[66,202,139],[69,203,137],[72,203,134],[75,203,132],[78,204,129],[81,204,127],[84,204,124],[87,204,122],[90,204,119],[94,205,116],[97,205,114],[100,205,111],[103,205,108],[107,205,105],[110,205,102],[114,205,100],[118,204,97],[121,204,94],[125,204,91],[129,204,89],[132,204,86],[136,203,83],[139,203,81],[143,203,78],[147,202,75],[150,202,72],[154,201,70],[157,201,67],[161,200,64],[164,200,62],[167,199,59],[171,199,57],[174,198,55],[178,198,53],[181,197,51],[184,196,49],[187,196,47],[190,195,45],[194,195,44],[197,194,42],[200,193,41],[203,193,40],[206,192,39],[208,191,39],[211,191,39],[214,190,39],[217,190,40],[219,189,40],[222,188,41],[225,188,42],[227,188,43],[230,187,45],[232,187,46],[234,186,48],[236,186,50],[239,186,53],[241,186,55],[243,186,57],[245,186,59],[247,186,61],[249,186,62],[251,187,62],[252,188,62],[254,189,61],[254,190,60],[254,192,59],[254,193,58],[254,194,57],[254,196,56],[254,197,55],[254,199,53],[254,200,52],[254,202,51],[253,203,50],[253,205,49],[253,206,49],[252,208,48],[251,210,47],[251,211,46],[250,213,46],[249,214,45],[249,216,44],[248,217,43],[247,219,42],[247,221,42],[246,222,41],[246,224,40],[245,225,40],[245,227,39],[245,229,38],[245,230,38],[245,232,37],[245,233,36],[245,235,35],[245,236,34],[245,238,33],[246,239,32],[246,241,31],[246,242,30],[247,244,28],[247,245,27],[248,247,26],[248,248,24],[249,249,22],[249,251,21]];
function lin(f){ var i=Math.floor(f); if(i>=255)return P[255]; var r=f-i, a=P[i], b=P[i+1];
 return [Math.round(a[0]+(b[0]-a[0])*r), Math.round(a[1]+(b[1]-a[1])*r), Math.round(a[2]+(b[2]-a[2])*r)]; }
var Q=[]; for(var q=0;q<64;q++) Q.push(lin(q*255/63));
function col(v){ var i=Math.floor(v*64); if(i<0)i=0; if(i>63)i=63; return Q[i]; }
function draw(id, fn){ var c=document.getElementById(id); if(!c)return; var ctx=c.getContext('2d'); var w=c.width,h=c.height;
 var im=ctx.createImageData(w,h), d=im.data; var ox=parseFloat(c.style.left), oy=parseFloat(c.style.top);
 for(var y=0;y<h;y++){ for(var x=0;x<w;x++){ var v=fn(ox+x+0.5, oy+y+0.5); var cc=col(v); var k=(y*w+x)*4; d[k]=cc[0]; d[k+1]=cc[1]; d[k+2]=cc[2]; d[k+3]=255; } }
 ctx.putImageData(im,0,0); }
function cbar(id){ var c=document.getElementById(id); var ctx=c.getContext('2d'); var w=c.width,h=c.height;
 var im=ctx.createImageData(w,h), d=im.data; for(var y=0;y<h;y++){ var cc=col(1-(y+0.5)/h); for(var x=0;x<w;x++){ var k=(y*w+x)*4; d[k]=cc[0]; d[k+1]=cc[1]; d[k+2]=cc[2]; d[k+3]=255; } } ctx.putImageData(im,0,0); }

var IA=function(cx,cy){return function(X,Y){var dx=X-cx, dy=Y-cy; return Math.exp(-dx*dx/(2*28.2*28.2)-dy*dy/(2*35.0*35.0));};};
draw('cva', IA(350.7,211.0)); draw('cvb', IA(721.0,211.3));
var RE=function(cx,cy,sa,sb){return function(X,Y){var a=(X-cx)/sa, b=(Y-cy)/sb, ab=a*b; return Math.exp(-(a*a+b*b)/2)*Math.cos(K1*ab);};};
var K=0.404, K1=0.38, IMX=0;
(function(){for(var a=0;a<3;a+=0.01)for(var b=0;b<3;b+=0.01){var v=Math.exp(-(a*a+b*b)/2)*Math.sin(K*a*b); if(v>IMX)IMX=v;}})();
var IM=function(cx,cy,sa,sb){return function(X,Y){var a=(X-cx)/sa, b=(Y-cy)/sb; var v=Math.exp(-(a*a+b*b)/2)*Math.sin(K*a*b)/IMX; return 0.5+0.5*v;};};
draw('cvd', RE(350.7,641.6,34.0,31.5)); draw('cve', RE(721.5,641.6,34.0,31.5));
draw('cvg', IM(351.0,1073.2,33.6,31.1)); draw('cvh', IM(721.5,1073.2,33.6,31.1));

})();
</script>
</body></html>
